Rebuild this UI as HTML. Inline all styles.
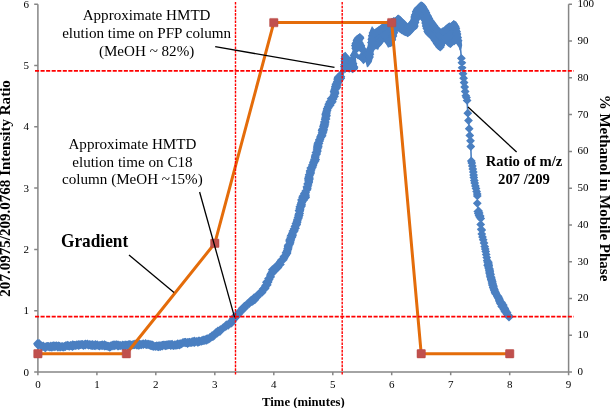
<!DOCTYPE html>
<html><head><meta charset="utf-8"><style>html,body{margin:0;padding:0;background:#fff;overflow:hidden}svg{display:block}</style></head>
<body><svg width="611" height="408" viewBox="0 0 611 408">
<rect width="611" height="408" fill="#fff"/>
<g fill="none" stroke="#868686" stroke-width="1.5">
<path d="M37.9 4.2V372.1H568.6M568.6 4.2V372.1"/>
<path d="M34.2 372.1H37.9M34.2 310.8H37.9M34.2 249.5H37.9M34.2 188.1H37.9M34.2 126.8H37.9M34.2 65.5H37.9M34.2 4.2H37.9M37.9 372.1V375.2M96.9 372.1V375.2M155.8 372.1V375.2M214.8 372.1V375.2M273.8 372.1V375.2M332.8 372.1V375.2M391.7 372.1V375.2M450.7 372.1V375.2M509.7 372.1V375.2M568.6 372.1V375.2M568.6 372.1H572M568.6 335.3H572M568.6 298.5H572M568.6 261.7H572M568.6 224.9H572M568.6 188.2H572M568.6 151.4H572M568.6 114.6H572M568.6 77.8H572M568.6 41.0H572M568.6 4.2H572"/>
</g>
<g font-family="Liberation Serif, serif" font-size="11" fill="#000">
<text x="29" y="375.5" text-anchor="end">0</text>
<text x="29" y="314.2" text-anchor="end">1</text>
<text x="29" y="252.9" text-anchor="end">2</text>
<text x="29" y="191.5" text-anchor="end">3</text>
<text x="29" y="130.2" text-anchor="end">4</text>
<text x="29" y="68.9" text-anchor="end">5</text>
<text x="29" y="7.6" text-anchor="end">6</text>
<text x="37.9" y="388.3" text-anchor="middle">0</text>
<text x="96.9" y="388.3" text-anchor="middle">1</text>
<text x="155.8" y="388.3" text-anchor="middle">2</text>
<text x="214.8" y="388.3" text-anchor="middle">3</text>
<text x="273.8" y="388.3" text-anchor="middle">4</text>
<text x="332.8" y="388.3" text-anchor="middle">5</text>
<text x="391.7" y="388.3" text-anchor="middle">6</text>
<text x="450.7" y="388.3" text-anchor="middle">7</text>
<text x="509.7" y="388.3" text-anchor="middle">8</text>
<text x="568.6" y="388.3" text-anchor="middle">9</text>
<text x="577.6" y="375.0">0</text>
<text x="577.6" y="338.2">10</text>
<text x="577.6" y="301.4">20</text>
<text x="577.6" y="264.6">30</text>
<text x="577.6" y="227.8">40</text>
<text x="577.6" y="191.1">50</text>
<text x="577.6" y="154.3">60</text>
<text x="577.6" y="117.5">70</text>
<text x="577.6" y="80.7">80</text>
<text x="577.6" y="43.9">90</text>
<text x="577.6" y="7.1">100</text>
</g>
<polyline points="460.2,45.0 461.4,58.3 461.9,62.7 462.1,67.7 463.0,73.7 463.6,78.2 464.1,82.6 464.7,87.0 465.2,91.4 465.8,95.8 466.5,97.5 467.1,100.4 467.8,113.2 468.5,120.6 469.2,128.7 469.8,135.4 470.5,140.8 470.8,146.5 471.3,160.9" fill="none" stroke="#4A7FC1" stroke-width="1.6"/>
<path d="M37.5 339.0L41.9 343.4L37.5 347.8L33.1 343.4ZM37.7 340.0L42.1 344.4L37.7 348.8L33.3 344.4ZM39.1 339.1L43.5 343.5L39.1 347.9L34.7 343.5ZM38.2 340.9L42.6 345.3L38.2 349.7L33.8 345.3ZM39.6 340.2L44.0 344.6L39.6 349.0L35.2 344.6ZM40.6 340.9L45.0 345.3L40.6 349.7L36.2 345.3ZM41.4 341.4L45.8 345.8L41.4 350.2L37.0 345.8ZM41.1 340.9L45.5 345.3L41.1 349.7L36.7 345.3ZM42.1 342.3L46.5 346.7L42.1 351.1L37.7 346.7ZM41.9 342.1L46.3 346.5L41.9 350.9L37.5 346.5ZM43.1 341.5L47.5 345.9L43.1 350.3L38.7 345.9ZM43.2 342.2L47.6 346.6L43.2 351.0L38.8 346.6ZM43.5 341.8L47.9 346.2L43.5 350.6L39.1 346.2ZM44.3 342.4L48.7 346.8L44.3 351.2L39.9 346.8ZM45.1 343.3L49.5 347.7L45.1 352.1L40.7 347.7ZM45.1 343.4L49.5 347.8L45.1 352.2L40.7 347.8ZM45.6 343.0L50.0 347.4L45.6 351.8L41.2 347.4ZM45.7 343.2L50.1 347.6L45.7 352.0L41.3 347.6ZM47.3 341.9L51.7 346.3L47.3 350.7L42.9 346.3ZM46.2 342.1L50.6 346.5L46.2 350.9L41.8 346.5ZM48.4 342.2L52.8 346.6L48.4 351.0L44.0 346.6ZM47.9 342.0L52.3 346.4L47.9 350.8L43.5 346.4ZM48.7 341.9L53.1 346.3L48.7 350.7L44.3 346.3ZM48.5 342.2L52.9 346.6L48.5 351.0L44.1 346.6ZM49.8 342.6L54.2 347.0L49.8 351.4L45.4 347.0ZM49.9 342.7L54.3 347.1L49.9 351.5L45.5 347.1ZM51.2 342.7L55.6 347.1L51.2 351.5L46.8 347.1ZM50.9 341.5L55.3 345.9L50.9 350.3L46.5 345.9ZM52.1 342.6L56.5 347.0L52.1 351.4L47.7 347.0ZM52.2 342.0L56.6 346.4L52.2 350.8L47.8 346.4ZM52.9 341.5L57.3 345.9L52.9 350.3L48.5 345.9ZM53.1 342.0L57.5 346.4L53.1 350.8L48.7 346.4ZM53.3 341.2L57.7 345.6L53.3 350.0L48.9 345.6ZM54.1 342.5L58.5 346.9L54.1 351.3L49.7 346.9ZM54.0 342.3L58.4 346.7L54.0 351.1L49.6 346.7ZM54.5 341.4L58.9 345.8L54.5 350.2L50.1 345.8ZM55.3 342.3L59.7 346.7L55.3 351.1L50.9 346.7ZM56.1 341.3L60.5 345.7L56.1 350.1L51.7 345.7ZM56.8 341.4L61.2 345.8L56.8 350.2L52.4 345.8ZM56.9 341.8L61.3 346.2L56.9 350.6L52.5 346.2ZM58.1 342.7L62.5 347.1L58.1 351.5L53.7 347.1ZM57.6 342.7L62.0 347.1L57.6 351.5L53.2 347.1ZM58.3 341.5L62.7 345.9L58.3 350.3L53.9 345.9ZM58.7 341.4L63.1 345.8L58.7 350.2L54.3 345.8ZM59.2 342.0L63.6 346.4L59.2 350.8L54.8 346.4ZM59.7 341.7L64.1 346.1L59.7 350.5L55.3 346.1ZM59.9 342.7L64.3 347.1L59.9 351.5L55.5 347.1ZM60.3 342.8L64.7 347.2L60.3 351.6L55.9 347.2ZM62.1 342.1L66.5 346.5L62.1 350.9L57.7 346.5ZM61.5 342.3L65.9 346.7L61.5 351.1L57.1 346.7ZM62.7 342.4L67.1 346.8L62.7 351.2L58.3 346.8ZM62.6 342.5L67.0 346.9L62.6 351.3L58.2 346.9ZM64.1 342.4L68.5 346.8L64.1 351.2L59.7 346.8ZM63.4 342.7L67.8 347.1L63.4 351.5L59.0 347.1ZM64.1 341.9L68.5 346.3L64.1 350.7L59.7 346.3ZM65.1 342.2L69.5 346.6L65.1 351.0L60.7 346.6ZM65.5 341.3L69.9 345.7L65.5 350.1L61.1 345.7ZM65.3 342.1L69.7 346.5L65.3 350.9L60.9 346.5ZM65.8 341.9L70.2 346.3L65.8 350.7L61.4 346.3ZM66.6 341.2L71.0 345.6L66.6 350.0L62.2 345.6ZM67.6 341.5L72.0 345.9L67.6 350.3L63.2 345.9ZM67.7 341.4L72.1 345.8L67.7 350.2L63.3 345.8ZM68.7 341.7L73.1 346.1L68.7 350.5L64.3 346.1ZM67.7 340.8L72.1 345.2L67.7 349.6L63.3 345.2ZM69.6 341.9L74.0 346.3L69.6 350.7L65.2 346.3ZM69.0 341.4L73.4 345.8L69.0 350.2L64.6 345.8ZM70.5 340.9L74.9 345.3L70.5 349.7L66.1 345.3ZM70.2 341.3L74.6 345.7L70.2 350.1L65.8 345.7ZM71.2 341.2L75.6 345.6L71.2 350.0L66.8 345.6ZM71.1 341.5L75.5 345.9L71.1 350.3L66.7 345.9ZM72.7 340.3L77.1 344.7L72.7 349.1L68.3 344.7ZM72.4 342.1L76.8 346.5L72.4 350.9L68.0 346.5ZM73.0 340.5L77.4 344.9L73.0 349.3L68.6 344.9ZM73.7 341.5L78.1 345.9L73.7 350.3L69.3 345.9ZM73.8 340.8L78.2 345.2L73.8 349.6L69.4 345.2ZM74.6 341.0L79.0 345.4L74.6 349.8L70.2 345.4ZM75.0 340.7L79.4 345.1L75.0 349.5L70.6 345.1ZM75.7 341.2L80.1 345.6L75.7 350.0L71.3 345.6ZM76.7 340.4L81.1 344.8L76.7 349.2L72.3 344.8ZM76.0 341.2L80.4 345.6L76.0 350.0L71.6 345.6ZM77.8 340.7L82.2 345.1L77.8 349.5L73.4 345.1ZM76.8 340.3L81.2 344.7L76.8 349.1L72.4 344.7ZM78.2 340.2L82.6 344.6L78.2 349.0L73.8 344.6ZM78.6 341.1L83.0 345.5L78.6 349.9L74.2 345.5ZM78.7 340.2L83.1 344.6L78.7 349.0L74.3 344.6ZM79.6 340.7L84.0 345.1L79.6 349.5L75.2 345.1ZM80.6 340.2L85.0 344.6L80.6 349.0L76.2 344.6ZM79.6 340.2L84.0 344.6L79.6 349.0L75.2 344.6ZM81.6 340.0L86.0 344.4L81.6 348.8L77.2 344.4ZM80.9 340.3L85.3 344.7L80.9 349.1L76.5 344.7ZM82.0 340.0L86.4 344.4L82.0 348.8L77.6 344.4ZM82.7 339.9L87.1 344.3L82.7 348.7L78.3 344.3ZM82.4 340.5L86.8 344.9L82.4 349.3L78.0 344.9ZM83.6 341.1L88.0 345.5L83.6 349.9L79.2 345.5ZM84.0 340.6L88.4 345.0L84.0 349.4L79.6 345.0ZM84.7 339.9L89.1 344.3L84.7 348.7L80.3 344.3ZM85.4 340.6L89.8 345.0L85.4 349.4L81.0 345.0ZM85.3 340.2L89.7 344.6L85.3 349.0L80.9 344.6ZM85.7 339.9L90.1 344.3L85.7 348.7L81.3 344.3ZM85.7 339.5L90.1 343.9L85.7 348.3L81.3 343.9ZM87.1 339.9L91.5 344.3L87.1 348.7L82.7 344.3ZM87.5 339.5L91.9 343.9L87.5 348.3L83.1 343.9ZM88.6 340.4L93.0 344.8L88.6 349.2L84.2 344.8ZM88.6 340.7L93.0 345.1L88.6 349.5L84.2 345.1ZM89.5 340.4L93.9 344.8L89.5 349.2L85.1 344.8ZM88.3 340.6L92.7 345.0L88.3 349.4L83.9 345.0ZM89.5 340.1L93.9 344.5L89.5 348.9L85.1 344.5ZM90.2 340.4L94.6 344.8L90.2 349.2L85.8 344.8ZM90.8 341.0L95.2 345.4L90.8 349.8L86.4 345.4ZM91.1 340.3L95.5 344.7L91.1 349.1L86.7 344.7ZM91.6 340.9L96.0 345.3L91.6 349.7L87.2 345.3ZM91.9 341.1L96.3 345.5L91.9 349.9L87.5 345.5ZM92.7 340.0L97.1 344.4L92.7 348.8L88.3 344.4ZM92.9 341.3L97.3 345.7L92.9 350.1L88.5 345.7ZM93.4 341.0L97.8 345.4L93.4 349.8L89.0 345.4ZM94.5 341.3L98.9 345.7L94.5 350.1L90.1 345.7ZM95.3 340.0L99.7 344.4L95.3 348.8L90.9 344.4ZM95.1 341.4L99.5 345.8L95.1 350.2L90.7 345.8ZM95.2 340.5L99.6 344.9L95.2 349.3L90.8 344.9ZM95.5 340.9L99.9 345.3L95.5 349.7L91.1 345.3ZM96.7 340.9L101.1 345.3L96.7 349.7L92.3 345.3ZM97.2 340.2L101.6 344.6L97.2 349.0L92.8 344.6ZM97.2 340.5L101.6 344.9L97.2 349.3L92.8 344.9ZM97.3 340.4L101.7 344.8L97.3 349.2L92.9 344.8ZM99.5 341.6L103.9 346.0L99.5 350.4L95.1 346.0ZM98.2 341.1L102.6 345.5L98.2 349.9L93.8 345.5ZM99.5 340.9L103.9 345.3L99.5 349.7L95.1 345.3ZM99.6 341.4L104.0 345.8L99.6 350.2L95.2 345.8ZM100.9 340.9L105.3 345.3L100.9 349.7L96.5 345.3ZM100.3 340.9L104.7 345.3L100.3 349.7L95.9 345.3ZM101.2 341.1L105.6 345.5L101.2 349.9L96.8 345.5ZM102.1 340.9L106.5 345.3L102.1 349.7L97.7 345.3ZM102.2 340.3L106.6 344.7L102.2 349.1L97.8 344.7ZM102.6 341.3L107.0 345.7L102.6 350.1L98.2 345.7ZM104.1 340.4L108.5 344.8L104.1 349.2L99.7 344.8ZM104.1 341.5L108.5 345.9L104.1 350.3L99.7 345.9ZM104.6 340.2L109.0 344.6L104.6 349.0L100.2 344.6ZM104.7 341.7L109.1 346.1L104.7 350.5L100.3 346.1ZM105.6 341.0L110.0 345.4L105.6 349.8L101.2 345.4ZM105.6 341.2L110.0 345.6L105.6 350.0L101.2 345.6ZM106.7 341.3L111.1 345.7L106.7 350.1L102.3 345.7ZM106.1 341.7L110.5 346.1L106.1 350.5L101.7 346.1ZM107.5 341.8L111.9 346.2L107.5 350.6L103.1 346.2ZM108.3 341.8L112.7 346.2L108.3 350.6L103.9 346.2ZM109.2 342.0L113.6 346.4L109.2 350.8L104.8 346.4ZM108.3 342.1L112.7 346.5L108.3 350.9L103.9 346.5ZM109.1 342.3L113.5 346.7L109.1 351.1L104.7 346.7ZM109.8 342.9L114.2 347.3L109.8 351.7L105.4 347.3ZM111.0 341.8L115.4 346.2L111.0 350.6L106.6 346.2ZM110.9 342.2L115.3 346.6L110.9 351.0L106.5 346.6ZM111.0 341.4L115.4 345.8L111.0 350.2L106.6 345.8ZM110.9 341.3L115.3 345.7L110.9 350.1L106.5 345.7ZM113.0 340.4L117.4 344.8L113.0 349.2L108.6 344.8ZM112.0 340.9L116.4 345.3L112.0 349.7L107.6 345.3ZM114.1 340.3L118.5 344.7L114.1 349.1L109.7 344.7ZM112.9 341.7L117.3 346.1L112.9 350.5L108.5 346.1ZM114.1 340.9L118.5 345.3L114.1 349.7L109.7 345.3ZM114.8 341.4L119.2 345.8L114.8 350.2L110.4 345.8ZM116.2 340.7L120.6 345.1L116.2 349.5L111.8 345.1ZM116.0 340.3L120.4 344.7L116.0 349.1L111.6 344.7ZM116.9 340.8L121.3 345.2L116.9 349.6L112.5 345.2ZM116.9 340.3L121.3 344.7L116.9 349.1L112.5 344.7ZM117.9 341.6L122.3 346.0L117.9 350.4L113.5 346.0ZM116.9 340.7L121.3 345.1L116.9 349.5L112.5 345.1ZM118.6 341.5L123.0 345.9L118.6 350.3L114.2 345.9ZM118.2 340.6L122.6 345.0L118.2 349.4L113.8 345.0ZM119.1 341.3L123.5 345.7L119.1 350.1L114.7 345.7ZM119.9 341.0L124.3 345.4L119.9 349.8L115.5 345.4ZM120.3 341.0L124.7 345.4L120.3 349.8L115.9 345.4ZM120.3 341.0L124.7 345.4L120.3 349.8L115.9 345.4ZM120.9 341.2L125.3 345.6L120.9 350.0L116.5 345.6ZM122.1 341.0L126.5 345.4L122.1 349.8L117.7 345.4ZM122.8 340.6L127.2 345.0L122.8 349.4L118.4 345.0ZM122.7 341.6L127.1 346.0L122.7 350.4L118.3 346.0ZM123.7 341.0L128.1 345.4L123.7 349.8L119.3 345.4ZM123.4 341.5L127.8 345.9L123.4 350.3L119.0 345.9ZM125.0 340.4L129.4 344.8L125.0 349.2L120.6 344.8ZM123.8 341.7L128.2 346.1L123.8 350.5L119.4 346.1ZM126.0 340.9L130.4 345.3L126.0 349.7L121.6 345.3ZM125.3 341.5L129.7 345.9L125.3 350.3L120.9 345.9ZM125.9 340.6L130.3 345.0L125.9 349.4L121.5 345.0ZM125.9 341.1L130.3 345.5L125.9 349.9L121.5 345.5ZM127.1 340.5L131.5 344.9L127.1 349.3L122.7 344.9ZM127.6 341.5L132.0 345.9L127.6 350.3L123.2 345.9ZM128.0 341.0L132.4 345.4L128.0 349.8L123.6 345.4ZM128.2 341.2L132.6 345.6L128.2 350.0L123.8 345.6ZM129.4 340.3L133.8 344.7L129.4 349.1L125.0 344.7ZM128.9 340.0L133.3 344.4L128.9 348.8L124.5 344.4ZM130.3 340.3L134.7 344.7L130.3 349.1L125.9 344.7ZM129.8 340.3L134.2 344.7L129.8 349.1L125.4 344.7ZM131.0 340.7L135.4 345.1L131.0 349.5L126.6 345.1ZM130.8 341.0L135.2 345.4L130.8 349.8L126.4 345.4ZM132.2 340.3L136.6 344.7L132.2 349.1L127.8 344.7ZM132.2 340.7L136.6 345.1L132.2 349.5L127.8 345.1ZM133.7 340.1L138.1 344.5L133.7 348.9L129.3 344.5ZM133.2 340.4L137.6 344.8L133.2 349.2L128.8 344.8ZM134.7 339.8L139.1 344.2L134.7 348.6L130.3 344.2ZM134.5 340.5L138.9 344.9L134.5 349.3L130.1 344.9ZM135.1 339.6L139.5 344.0L135.1 348.4L130.7 344.0ZM134.8 340.3L139.2 344.7L134.8 349.1L130.4 344.7ZM136.4 340.7L140.8 345.1L136.4 349.5L132.0 345.1ZM136.7 339.7L141.1 344.1L136.7 348.5L132.3 344.1ZM136.7 339.9L141.1 344.3L136.7 348.7L132.3 344.3ZM136.7 340.5L141.1 344.9L136.7 349.3L132.3 344.9ZM138.6 340.9L143.0 345.3L138.6 349.7L134.2 345.3ZM137.8 340.8L142.2 345.2L137.8 349.6L133.4 345.2ZM138.8 340.3L143.2 344.7L138.8 349.1L134.4 344.7ZM139.4 339.8L143.8 344.2L139.4 348.6L135.0 344.2ZM139.5 340.7L143.9 345.1L139.5 349.5L135.1 345.1ZM139.8 340.1L144.2 344.5L139.8 348.9L135.4 344.5ZM141.2 340.4L145.6 344.8L141.2 349.2L136.8 344.8ZM140.4 339.9L144.8 344.3L140.4 348.7L136.0 344.3ZM142.0 340.0L146.4 344.4L142.0 348.8L137.6 344.4ZM141.6 340.1L146.0 344.5L141.6 348.9L137.2 344.5ZM143.7 339.7L148.1 344.1L143.7 348.5L139.3 344.1ZM143.1 339.3L147.5 343.7L143.1 348.1L138.7 343.7ZM143.7 340.0L148.1 344.4L143.7 348.8L139.3 344.4ZM143.5 340.3L147.9 344.7L143.5 349.1L139.1 344.7ZM145.6 339.0L150.0 343.4L145.6 347.8L141.2 343.4ZM145.6 339.4L150.0 343.8L145.6 348.2L141.2 343.8ZM146.4 340.1L150.8 344.5L146.4 348.9L142.0 344.5ZM145.7 340.0L150.1 344.4L145.7 348.8L141.3 344.4ZM147.2 340.3L151.6 344.7L147.2 349.1L142.8 344.7ZM146.6 340.3L151.0 344.7L146.6 349.1L142.2 344.7ZM148.6 340.3L153.0 344.7L148.6 349.1L144.2 344.7ZM148.0 339.5L152.4 343.9L148.0 348.3L143.6 343.9ZM148.9 340.0L153.3 344.4L148.9 348.8L144.5 344.4ZM149.2 340.4L153.6 344.8L149.2 349.2L144.8 344.8ZM150.0 339.9L154.4 344.3L150.0 348.7L145.6 344.3ZM150.1 340.5L154.5 344.9L150.1 349.3L145.7 344.9ZM150.4 341.2L154.8 345.6L150.4 350.0L146.0 345.6ZM151.1 340.2L155.5 344.6L151.1 349.0L146.7 344.6ZM152.5 340.5L156.9 344.9L152.5 349.3L148.1 344.9ZM151.6 341.4L156.0 345.8L151.6 350.2L147.2 345.8ZM153.0 341.5L157.4 345.9L153.0 350.3L148.6 345.9ZM153.0 341.3L157.4 345.7L153.0 350.1L148.6 345.7ZM153.6 341.3L158.0 345.7L153.6 350.1L149.2 345.7ZM153.2 342.1L157.6 346.5L153.2 350.9L148.8 346.5ZM155.2 342.2L159.6 346.6L155.2 351.0L150.8 346.6ZM155.1 341.9L159.5 346.3L155.1 350.7L150.7 346.3ZM155.5 341.9L159.9 346.3L155.5 350.7L151.1 346.3ZM156.3 341.4L160.7 345.8L156.3 350.2L151.9 345.8ZM156.8 341.6L161.2 346.0L156.8 350.4L152.4 346.0ZM157.1 341.8L161.5 346.2L157.1 350.6L152.7 346.2ZM157.5 341.8L161.9 346.2L157.5 350.6L153.1 346.2ZM157.8 342.3L162.2 346.7L157.8 351.1L153.4 346.7ZM158.5 342.4L162.9 346.8L158.5 351.2L154.1 346.8ZM158.2 341.6L162.6 346.0L158.2 350.4L153.8 346.0ZM159.1 341.3L163.5 345.7L159.1 350.1L154.7 345.7ZM160.1 342.2L164.5 346.6L160.1 351.0L155.7 346.6ZM160.2 341.2L164.6 345.6L160.2 350.0L155.8 345.6ZM160.6 342.0L165.0 346.4L160.6 350.8L156.2 346.4ZM162.1 341.7L166.5 346.1L162.1 350.5L157.7 346.1ZM161.8 341.0L166.2 345.4L161.8 349.8L157.4 345.4ZM162.5 340.8L166.9 345.2L162.5 349.6L158.1 345.2ZM162.7 341.4L167.1 345.8L162.7 350.2L158.3 345.8ZM163.2 340.7L167.6 345.1L163.2 349.5L158.8 345.1ZM164.0 340.4L168.4 344.8L164.0 349.2L159.6 344.8ZM165.0 341.3L169.4 345.7L165.0 350.1L160.6 345.7ZM165.2 340.7L169.6 345.1L165.2 349.5L160.8 345.1ZM165.7 340.7L170.1 345.1L165.7 349.5L161.3 345.1ZM165.8 341.5L170.2 345.9L165.8 350.3L161.4 345.9ZM166.9 340.2L171.3 344.6L166.9 349.0L162.5 344.6ZM167.1 340.7L171.5 345.1L167.1 349.5L162.7 345.1ZM167.7 340.6L172.1 345.0L167.7 349.4L163.3 345.0ZM166.9 341.0L171.3 345.4L166.9 349.8L162.5 345.4ZM168.8 340.1L173.2 344.5L168.8 348.9L164.4 344.5ZM168.6 340.4L173.0 344.8L168.6 349.2L164.2 344.8ZM169.2 339.9L173.6 344.3L169.2 348.7L164.8 344.3ZM169.0 340.4L173.4 344.8L169.0 349.2L164.6 344.8ZM170.8 340.0L175.2 344.4L170.8 348.8L166.4 344.4ZM170.7 341.1L175.1 345.5L170.7 349.9L166.3 345.5ZM172.1 339.7L176.5 344.1L172.1 348.5L167.7 344.1ZM172.0 340.8L176.4 345.2L172.0 349.6L167.6 345.2ZM171.9 340.2L176.3 344.6L171.9 349.0L167.5 344.6ZM172.2 340.1L176.6 344.5L172.2 348.9L167.8 344.5ZM173.6 341.2L178.0 345.6L173.6 350.0L169.2 345.6ZM173.3 341.3L177.7 345.7L173.3 350.1L168.9 345.7ZM174.8 340.3L179.2 344.7L174.8 349.1L170.4 344.7ZM175.0 341.0L179.4 345.4L175.0 349.8L170.6 345.4ZM176.1 340.8L180.5 345.2L176.1 349.6L171.7 345.2ZM175.8 340.6L180.2 345.0L175.8 349.4L171.4 345.0ZM176.9 340.8L181.3 345.2L176.9 349.6L172.5 345.2ZM177.0 340.6L181.4 345.0L177.0 349.4L172.6 345.0ZM177.8 339.9L182.2 344.3L177.8 348.7L173.4 344.3ZM176.9 340.0L181.3 344.4L176.9 348.8L172.5 344.4ZM177.8 339.3L182.2 343.7L177.8 348.1L173.4 343.7ZM177.9 340.5L182.3 344.9L177.9 349.3L173.5 344.9ZM179.7 339.5L184.1 343.9L179.7 348.3L175.3 343.9ZM179.3 340.6L183.7 345.0L179.3 349.4L174.9 345.0ZM180.1 339.2L184.5 343.6L180.1 348.0L175.7 343.6ZM180.7 339.9L185.1 344.3L180.7 348.7L176.3 344.3ZM180.9 339.6L185.3 344.0L180.9 348.4L176.5 344.0ZM181.7 339.4L186.1 343.8L181.7 348.2L177.3 343.8ZM182.2 338.8L186.6 343.2L182.2 347.6L177.8 343.2ZM182.5 338.8L186.9 343.2L182.5 347.6L178.1 343.2ZM182.6 338.2L187.0 342.6L182.6 347.0L178.2 342.6ZM183.7 338.3L188.1 342.7L183.7 347.1L179.3 342.7ZM184.2 338.0L188.6 342.4L184.2 346.8L179.8 342.4ZM183.9 337.9L188.3 342.3L183.9 346.7L179.5 342.3ZM185.1 338.0L189.5 342.4L185.1 346.8L180.7 342.4ZM184.6 337.9L189.0 342.3L184.6 346.7L180.2 342.3ZM185.8 338.5L190.2 342.9L185.8 347.3L181.4 342.9ZM185.6 337.8L190.0 342.2L185.6 346.6L181.2 342.2ZM187.2 338.4L191.6 342.8L187.2 347.2L182.8 342.8ZM187.5 337.9L191.9 342.3L187.5 346.7L183.1 342.3ZM188.1 338.5L192.5 342.9L188.1 347.3L183.7 342.9ZM187.6 339.3L192.0 343.7L187.6 348.1L183.2 343.7ZM188.8 338.1L193.2 342.5L188.8 346.9L184.4 342.5ZM189.2 338.2L193.6 342.6L189.2 347.0L184.8 342.6ZM190.4 338.2L194.8 342.6L190.4 347.0L186.0 342.6ZM189.7 337.8L194.1 342.2L189.7 346.6L185.3 342.2ZM191.5 337.8L195.9 342.2L191.5 346.6L187.1 342.2ZM191.6 338.1L196.0 342.5L191.6 346.9L187.2 342.5ZM192.7 337.6L197.1 342.0L192.7 346.4L188.3 342.0ZM191.8 337.6L196.2 342.0L191.8 346.4L187.4 342.0ZM193.6 337.8L198.0 342.2L193.6 346.6L189.2 342.2ZM192.9 337.1L197.3 341.5L192.9 345.9L188.5 341.5ZM194.4 338.1L198.8 342.5L194.4 346.9L190.0 342.5ZM194.2 336.7L198.6 341.1L194.2 345.5L189.8 341.1ZM194.4 336.8L198.8 341.2L194.4 345.6L190.0 341.2ZM194.6 336.7L199.0 341.1L194.6 345.5L190.2 341.1ZM195.4 337.5L199.8 341.9L195.4 346.3L191.0 341.9ZM196.6 336.9L201.0 341.3L196.6 345.7L192.2 341.3ZM197.7 337.2L202.1 341.6L197.7 346.0L193.3 341.6ZM197.5 337.9L201.9 342.3L197.5 346.7L193.1 342.3ZM198.6 336.6L203.0 341.0L198.6 345.4L194.2 341.0ZM197.7 337.4L202.1 341.8L197.7 346.2L193.3 341.8ZM199.6 336.6L204.0 341.0L199.6 345.4L195.2 341.0ZM198.7 337.7L203.1 342.1L198.7 346.5L194.3 342.1ZM199.4 336.8L203.8 341.2L199.4 345.6L195.0 341.2ZM199.7 337.2L204.1 341.6L199.7 346.0L195.3 341.6ZM201.6 336.2L206.0 340.6L201.6 345.0L197.2 340.6ZM201.3 337.0L205.7 341.4L201.3 345.8L196.9 341.4ZM202.4 336.5L206.8 340.9L202.4 345.3L198.0 340.9ZM202.5 336.3L206.9 340.7L202.5 345.1L198.1 340.7ZM202.8 335.8L207.2 340.2L202.8 344.6L198.4 340.2ZM203.3 336.2L207.7 340.6L203.3 345.0L198.9 340.6ZM203.6 335.4L208.0 339.8L203.6 344.2L199.2 339.8ZM204.2 336.1L208.6 340.5L204.2 344.9L199.8 340.5ZM205.3 335.4L209.7 339.8L205.3 344.2L200.9 339.8ZM205.0 335.3L209.4 339.7L205.0 344.1L200.6 339.7ZM206.5 334.6L210.9 339.0L206.5 343.4L202.1 339.0ZM206.1 335.9L210.5 340.3L206.1 344.7L201.7 340.3ZM207.5 334.3L211.9 338.7L207.5 343.1L203.1 338.7ZM206.9 335.8L211.3 340.2L206.9 344.6L202.5 340.2ZM208.5 334.8L212.9 339.2L208.5 343.6L204.1 339.2ZM208.8 334.6L213.2 339.0L208.8 343.4L204.4 339.0ZM209.9 334.0L214.3 338.4L209.9 342.8L205.5 338.4ZM209.1 333.9L213.5 338.3L209.1 342.7L204.7 338.3ZM209.8 333.0L214.2 337.4L209.8 341.8L205.4 337.4ZM211.0 332.9L215.4 337.3L211.0 341.7L206.6 337.3ZM211.5 332.0L215.9 336.4L211.5 340.8L207.1 336.4ZM210.8 333.0L215.2 337.4L210.8 341.8L206.4 337.4ZM212.0 331.3L216.4 335.7L212.0 340.1L207.6 335.7ZM211.9 332.4L216.3 336.8L211.9 341.2L207.5 336.8ZM213.5 330.6L217.9 335.0L213.5 339.4L209.1 335.0ZM213.0 332.3L217.4 336.7L213.0 341.1L208.6 336.7ZM214.0 330.5L218.4 334.9L214.0 339.3L209.6 334.9ZM214.3 331.2L218.7 335.6L214.3 340.0L209.9 335.6ZM215.6 329.8L220.0 334.2L215.6 338.6L211.2 334.2ZM215.5 329.5L219.9 333.9L215.5 338.3L211.1 333.9ZM216.0 327.9L220.4 332.3L216.0 336.7L211.6 332.3ZM216.9 328.6L221.3 333.0L216.9 337.4L212.5 333.0ZM216.8 328.2L221.2 332.6L216.8 337.0L212.4 332.6ZM217.0 328.9L221.4 333.3L217.0 337.7L212.6 333.3ZM217.9 326.6L222.3 331.0L217.9 335.4L213.5 331.0ZM218.1 328.0L222.5 332.4L218.1 336.8L213.7 332.4ZM219.7 325.9L224.1 330.3L219.7 334.7L215.3 330.3ZM219.9 327.2L224.3 331.6L219.9 336.0L215.5 331.6ZM220.3 325.2L224.7 329.6L220.3 334.0L215.9 329.6ZM220.4 325.3L224.8 329.7L220.4 334.1L216.0 329.7ZM222.0 324.6L226.4 329.0L222.0 333.4L217.6 329.0ZM222.0 324.7L226.4 329.1L222.0 333.5L217.6 329.1ZM222.6 323.8L227.0 328.2L222.6 332.6L218.2 328.2ZM222.9 323.7L227.3 328.1L222.9 332.5L218.5 328.1ZM223.4 323.2L227.8 327.6L223.4 332.0L219.0 327.6ZM223.0 323.5L227.4 327.9L223.0 332.3L218.6 327.9ZM224.9 322.5L229.3 326.9L224.9 331.3L220.5 326.9ZM224.8 322.8L229.2 327.2L224.8 331.6L220.4 327.2ZM225.2 321.7L229.6 326.1L225.2 330.5L220.8 326.1ZM226.3 321.7L230.7 326.1L226.3 330.5L221.9 326.1ZM226.5 320.4L230.9 324.8L226.5 329.2L222.1 324.8ZM226.2 320.6L230.6 325.0L226.2 329.4L221.8 325.0ZM228.3 320.3L232.7 324.7L228.3 329.1L223.9 324.7ZM228.2 321.0L232.6 325.4L228.2 329.8L223.8 325.4ZM228.9 319.6L233.3 324.0L228.9 328.4L224.5 324.0ZM228.8 319.5L233.2 323.9L228.8 328.3L224.4 323.9ZM230.4 318.6L234.8 323.0L230.4 327.4L226.0 323.0ZM230.4 318.9L234.8 323.3L230.4 327.7L226.0 323.3ZM231.1 316.9L235.5 321.3L231.1 325.7L226.7 321.3ZM231.5 318.8L235.9 323.2L231.5 327.6L227.1 323.2ZM231.5 316.6L235.9 321.0L231.5 325.4L227.1 321.0ZM231.4 316.9L235.8 321.3L231.4 325.7L227.0 321.3ZM233.1 314.6L237.5 319.0L233.1 323.4L228.7 319.0ZM232.9 316.4L237.3 320.8L232.9 325.2L228.5 320.8ZM233.2 314.1L237.6 318.5L233.2 322.9L228.8 318.5ZM233.6 314.8L238.0 319.2L233.6 323.6L229.2 319.2ZM234.7 313.0L239.1 317.4L234.7 321.8L230.3 317.4ZM235.2 313.3L239.6 317.7L235.2 322.1L230.8 317.7ZM235.4 311.3L239.8 315.7L235.4 320.1L231.0 315.7ZM235.8 311.7L240.2 316.1L235.8 320.5L231.4 316.1ZM236.5 310.9L240.9 315.3L236.5 319.7L232.1 315.3ZM237.2 311.7L241.6 316.1L237.2 320.5L232.8 316.1ZM238.7 309.9L243.1 314.3L238.7 318.7L234.3 314.3ZM237.8 309.2L242.2 313.6L237.8 318.0L233.4 313.6ZM238.7 308.4L243.1 312.8L238.7 317.2L234.3 312.8ZM239.0 308.6L243.4 313.0L239.0 317.4L234.6 313.0ZM239.8 307.9L244.2 312.3L239.8 316.7L235.4 312.3ZM239.6 307.3L244.0 311.7L239.6 316.1L235.2 311.7ZM241.5 306.8L245.9 311.2L241.5 315.6L237.1 311.2ZM240.6 306.0L245.0 310.4L240.6 314.8L236.2 310.4ZM242.3 304.6L246.7 309.0L242.3 313.4L237.9 309.0ZM241.4 305.3L245.8 309.7L241.4 314.1L237.0 309.7ZM242.9 303.9L247.3 308.3L242.9 312.7L238.5 308.3ZM242.2 303.9L246.6 308.3L242.2 312.7L237.8 308.3ZM244.2 303.4L248.6 307.8L244.2 312.2L239.8 307.8ZM244.5 303.8L248.9 308.2L244.5 312.6L240.1 308.2ZM245.5 301.8L249.9 306.2L245.5 310.6L241.1 306.2ZM244.4 301.8L248.8 306.2L244.4 310.6L240.0 306.2ZM245.7 301.3L250.1 305.7L245.7 310.1L241.3 305.7ZM245.2 301.6L249.6 306.0L245.2 310.4L240.8 306.0ZM246.2 300.4L250.6 304.8L246.2 309.2L241.8 304.8ZM246.4 301.1L250.8 305.5L246.4 309.9L242.0 305.5ZM247.6 299.4L252.0 303.8L247.6 308.2L243.2 303.8ZM247.1 299.6L251.5 304.0L247.1 308.4L242.7 304.0ZM248.9 299.1L253.3 303.5L248.9 307.9L244.5 303.5ZM249.3 299.2L253.7 303.6L249.3 308.0L244.9 303.6ZM249.3 297.4L253.7 301.8L249.3 306.2L244.9 301.8ZM250.1 298.3L254.5 302.7L250.1 307.1L245.7 302.7ZM250.7 297.7L255.1 302.1L250.7 306.5L246.3 302.1ZM250.7 296.9L255.1 301.3L250.7 305.7L246.3 301.3ZM251.2 295.7L255.6 300.1L251.2 304.5L246.8 300.1ZM251.9 297.3L256.3 301.7L251.9 306.1L247.5 301.7ZM253.2 295.5L257.6 299.9L253.2 304.3L248.8 299.9ZM252.9 296.8L257.3 301.2L252.9 305.6L248.5 301.2ZM254.0 294.8L258.4 299.2L254.0 303.6L249.6 299.2ZM253.5 295.7L257.9 300.1L253.5 304.5L249.1 300.1ZM254.1 293.3L258.5 297.7L254.1 302.1L249.7 297.7ZM254.9 295.4L259.3 299.8L254.9 304.2L250.5 299.8ZM255.7 292.6L260.1 297.0L255.7 301.4L251.3 297.0ZM255.4 293.7L259.8 298.1L255.4 302.5L251.0 298.1ZM257.0 291.7L261.4 296.1L257.0 300.5L252.6 296.1ZM257.2 292.3L261.6 296.7L257.2 301.1L252.8 296.7ZM257.3 290.8L261.7 295.2L257.3 299.6L252.9 295.2ZM257.5 292.3L261.9 296.7L257.5 301.1L253.1 296.7ZM259.0 290.4L263.4 294.8L259.0 299.2L254.6 294.8ZM258.7 290.0L263.1 294.4L258.7 298.8L254.3 294.4ZM259.7 288.9L264.1 293.3L259.7 297.7L255.3 293.3ZM259.5 289.3L263.9 293.7L259.5 298.1L255.1 293.7ZM260.8 288.5L265.2 292.9L260.8 297.3L256.4 292.9ZM260.0 288.7L264.4 293.1L260.0 297.5L255.6 293.1ZM261.3 286.9L265.7 291.3L261.3 295.7L256.9 291.3ZM262.1 288.0L266.5 292.4L262.1 296.8L257.7 292.4ZM262.7 285.4L267.1 289.8L262.7 294.2L258.3 289.8ZM263.1 285.6L267.5 290.0L263.1 294.4L258.7 290.0ZM263.3 285.2L267.7 289.6L263.3 294.0L258.9 289.6ZM263.2 284.4L267.6 288.8L263.2 293.2L258.8 288.8ZM265.1 284.1L269.5 288.5L265.1 292.9L260.7 288.5ZM264.2 283.3L268.6 287.7L264.2 292.1L259.8 287.7ZM265.3 282.1L269.7 286.5L265.3 290.9L260.9 286.5ZM265.3 283.3L269.7 287.7L265.3 292.1L260.9 287.7ZM265.5 281.1L269.9 285.5L265.5 289.9L261.1 285.5ZM265.7 280.9L270.1 285.3L265.7 289.7L261.3 285.3ZM266.5 280.7L270.9 285.1L266.5 289.5L262.1 285.1ZM267.2 280.5L271.6 284.9L267.2 289.3L262.8 284.9ZM267.2 278.5L271.6 282.9L267.2 287.3L262.8 282.9ZM267.1 279.9L271.5 284.3L267.1 288.7L262.7 284.3ZM266.4 277.8L270.8 282.2L266.4 286.6L262.0 282.2ZM268.1 277.8L272.5 282.2L268.1 286.6L263.7 282.2ZM267.7 276.4L272.1 280.8L267.7 285.2L263.3 280.8ZM268.0 277.6L272.4 282.0L268.0 286.4L263.6 282.0ZM267.9 276.5L272.3 280.9L267.9 285.3L263.5 280.9ZM268.2 276.6L272.6 281.0L268.2 285.4L263.8 281.0ZM269.2 275.0L273.6 279.4L269.2 283.8L264.8 279.4ZM268.5 274.2L272.9 278.6L268.5 283.0L264.1 278.6ZM269.8 273.2L274.2 277.6L269.8 282.0L265.4 277.6ZM269.0 274.2L273.4 278.6L269.0 283.0L264.6 278.6ZM270.5 272.0L274.9 276.4L270.5 280.8L266.1 276.4ZM270.6 272.6L275.0 277.0L270.6 281.4L266.2 277.0ZM270.4 270.9L274.8 275.3L270.4 279.7L266.0 275.3ZM270.4 272.2L274.8 276.6L270.4 281.0L266.0 276.6ZM270.7 269.9L275.1 274.3L270.7 278.7L266.3 274.3ZM270.7 269.9L275.1 274.3L270.7 278.7L266.3 274.3ZM271.2 269.9L275.6 274.3L271.2 278.7L266.8 274.3ZM271.3 268.9L275.7 273.3L271.3 277.7L266.9 273.3ZM272.4 268.9L276.8 273.3L272.4 277.7L268.0 273.3ZM273.4 267.8L277.8 272.2L273.4 276.6L269.0 272.2ZM272.0 267.7L276.4 272.1L272.0 276.5L267.6 272.1ZM273.5 267.4L277.9 271.8L273.5 276.2L269.1 271.8ZM272.3 265.3L276.7 269.7L272.3 274.1L267.9 269.7ZM274.2 266.3L278.6 270.7L274.2 275.1L269.8 270.7ZM273.4 265.0L277.8 269.4L273.4 273.8L269.0 269.4ZM274.0 265.0L278.4 269.4L274.0 273.8L269.6 269.4ZM275.1 264.9L279.5 269.3L275.1 273.7L270.7 269.3ZM274.8 263.4L279.2 267.8L274.8 272.2L270.4 267.8ZM276.4 264.4L280.8 268.8L276.4 273.2L272.0 268.8ZM276.2 262.2L280.6 266.6L276.2 271.0L271.8 266.6ZM278.0 263.1L282.4 267.5L278.0 271.9L273.6 267.5ZM276.7 261.2L281.1 265.6L276.7 270.0L272.3 265.6ZM278.1 260.9L282.5 265.3L278.1 269.7L273.7 265.3ZM279.2 260.3L283.6 264.7L279.2 269.1L274.8 264.7ZM280.1 259.9L284.5 264.3L280.1 268.7L275.7 264.3ZM278.6 259.8L283.0 264.2L278.6 268.6L274.2 264.2ZM280.4 260.0L284.8 264.4L280.4 268.8L276.0 264.4ZM280.4 258.2L284.8 262.6L280.4 267.0L276.0 262.6ZM280.8 257.6L285.2 262.0L280.8 266.4L276.4 262.0ZM281.0 257.0L285.4 261.4L281.0 265.8L276.6 261.4ZM280.4 257.2L284.8 261.6L280.4 266.0L276.0 261.6ZM281.3 256.0L285.7 260.4L281.3 264.8L276.9 260.4ZM281.4 255.7L285.8 260.1L281.4 264.5L277.0 260.1ZM282.3 255.0L286.7 259.4L282.3 263.8L277.9 259.4ZM283.1 255.5L287.5 259.9L283.1 264.3L278.7 259.9ZM283.9 254.3L288.3 258.7L283.9 263.1L279.5 258.7ZM283.1 254.5L287.5 258.9L283.1 263.3L278.7 258.9ZM283.9 252.2L288.3 256.6L283.9 261.0L279.5 256.6ZM284.3 253.0L288.7 257.4L284.3 261.8L279.9 257.4ZM284.9 251.8L289.3 256.2L284.9 260.6L280.5 256.2ZM284.8 252.3L289.2 256.7L284.8 261.1L280.4 256.7ZM285.6 250.5L290.0 254.9L285.6 259.3L281.2 254.9ZM285.7 251.0L290.1 255.4L285.7 259.8L281.3 255.4ZM286.8 249.4L291.2 253.8L286.8 258.2L282.4 253.8ZM286.0 249.6L290.4 254.0L286.0 258.4L281.6 254.0ZM286.0 248.2L290.4 252.6L286.0 257.0L281.6 252.6ZM287.1 248.7L291.5 253.1L287.1 257.5L282.7 253.1ZM286.5 247.7L290.9 252.1L286.5 256.5L282.1 252.1ZM286.9 247.9L291.3 252.3L286.9 256.7L282.5 252.3ZM287.2 245.8L291.6 250.2L287.2 254.6L282.8 250.2ZM287.4 246.7L291.8 251.1L287.4 255.5L283.0 251.1ZM287.5 245.7L291.9 250.1L287.5 254.5L283.1 250.1ZM287.9 245.0L292.3 249.4L287.9 253.8L283.5 249.4ZM287.6 244.2L292.0 248.6L287.6 253.0L283.2 248.6ZM287.7 244.0L292.1 248.4L287.7 252.8L283.3 248.4ZM288.3 243.7L292.7 248.1L288.3 252.5L283.9 248.1ZM288.2 242.7L292.6 247.1L288.2 251.5L283.8 247.1ZM288.0 242.0L292.4 246.4L288.0 250.8L283.6 246.4ZM288.6 241.7L293.0 246.1L288.6 250.5L284.2 246.1ZM288.1 240.9L292.5 245.3L288.1 249.7L283.7 245.3ZM288.4 240.5L292.8 244.9L288.4 249.3L284.0 244.9ZM289.1 240.7L293.5 245.1L289.1 249.5L284.7 245.1ZM289.1 240.5L293.5 244.9L289.1 249.3L284.7 244.9ZM289.8 239.6L294.2 244.0L289.8 248.4L285.4 244.0ZM289.9 239.0L294.3 243.4L289.9 247.8L285.5 243.4ZM289.9 237.6L294.3 242.0L289.9 246.4L285.5 242.0ZM290.2 237.9L294.6 242.3L290.2 246.7L285.8 242.3ZM289.9 237.7L294.3 242.1L289.9 246.5L285.5 242.1ZM289.6 236.7L294.0 241.1L289.6 245.5L285.2 241.1ZM290.7 236.4L295.1 240.8L290.7 245.2L286.3 240.8ZM289.6 235.6L294.0 240.0L289.6 244.4L285.2 240.0ZM290.3 234.7L294.7 239.1L290.3 243.5L285.9 239.1ZM290.9 234.9L295.3 239.3L290.9 243.7L286.5 239.3ZM290.4 234.3L294.8 238.7L290.4 243.1L286.0 238.7ZM290.8 234.3L295.2 238.7L290.8 243.1L286.4 238.7ZM291.2 233.7L295.6 238.1L291.2 242.5L286.8 238.1ZM290.9 233.0L295.3 237.4L290.9 241.8L286.5 237.4ZM292.0 232.9L296.4 237.3L292.0 241.7L287.6 237.3ZM290.7 232.5L295.1 236.9L290.7 241.3L286.3 236.9ZM292.0 232.4L296.4 236.8L292.0 241.2L287.6 236.8ZM291.1 231.0L295.5 235.4L291.1 239.8L286.7 235.4ZM292.0 230.7L296.4 235.1L292.0 239.5L287.6 235.1ZM292.6 231.2L297.0 235.6L292.6 240.0L288.2 235.6ZM292.2 229.7L296.6 234.1L292.2 238.5L287.8 234.1ZM292.5 230.4L296.9 234.8L292.5 239.2L288.1 234.8ZM292.3 228.8L296.7 233.2L292.3 237.6L287.9 233.2ZM292.2 229.1L296.6 233.5L292.2 237.9L287.8 233.5ZM292.5 228.6L296.9 233.0L292.5 237.4L288.1 233.0ZM293.2 228.1L297.6 232.5L293.2 236.9L288.8 232.5ZM292.9 226.7L297.3 231.1L292.9 235.5L288.5 231.1ZM293.5 227.6L297.9 232.0L293.5 236.4L289.1 232.0ZM293.9 225.9L298.3 230.3L293.9 234.7L289.5 230.3ZM294.5 226.4L298.9 230.8L294.5 235.2L290.1 230.8ZM294.3 224.8L298.7 229.2L294.3 233.6L289.9 229.2ZM294.0 225.8L298.4 230.2L294.0 234.6L289.6 230.2ZM294.1 224.4L298.5 228.8L294.1 233.2L289.7 228.8ZM294.8 224.1L299.2 228.5L294.8 232.9L290.4 228.5ZM295.3 224.0L299.7 228.4L295.3 232.8L290.9 228.4ZM295.5 223.8L299.9 228.2L295.5 232.6L291.1 228.2ZM294.9 221.9L299.3 226.3L294.9 230.7L290.5 226.3ZM295.2 222.3L299.6 226.7L295.2 231.1L290.8 226.7ZM295.3 222.1L299.7 226.5L295.3 230.9L290.9 226.5ZM295.3 222.1L299.7 226.5L295.3 230.9L290.9 226.5ZM296.7 219.9L301.1 224.3L296.7 228.7L292.3 224.3ZM296.7 220.3L301.1 224.7L296.7 229.1L292.3 224.7ZM296.1 218.9L300.5 223.3L296.1 227.7L291.7 223.3ZM295.9 219.3L300.3 223.7L295.9 228.1L291.5 223.7ZM296.8 218.7L301.2 223.1L296.8 227.5L292.4 223.1ZM297.4 217.6L301.8 222.0L297.4 226.4L293.0 222.0ZM297.2 216.9L301.6 221.3L297.2 225.7L292.8 221.3ZM296.9 216.8L301.3 221.2L296.9 225.6L292.5 221.2ZM297.3 216.3L301.7 220.7L297.3 225.1L292.9 220.7ZM297.4 215.5L301.8 219.9L297.4 224.3L293.0 219.9ZM297.5 214.8L301.9 219.2L297.5 223.6L293.1 219.2ZM298.0 214.5L302.4 218.9L298.0 223.3L293.6 218.9ZM298.5 213.4L302.9 217.8L298.5 222.2L294.1 217.8ZM298.4 214.0L302.8 218.4L298.4 222.8L294.0 218.4ZM298.0 213.1L302.4 217.5L298.0 221.9L293.6 217.5ZM298.3 212.8L302.7 217.2L298.3 221.6L293.9 217.2ZM298.8 211.8L303.2 216.2L298.8 220.6L294.4 216.2ZM298.6 211.0L303.0 215.4L298.6 219.8L294.2 215.4ZM299.3 211.0L303.7 215.4L299.3 219.8L294.9 215.4ZM298.9 210.6L303.3 215.0L298.9 219.4L294.5 215.0ZM298.8 210.0L303.2 214.4L298.8 218.8L294.4 214.4ZM299.3 209.0L303.7 213.4L299.3 217.8L294.9 213.4ZM299.7 209.0L304.1 213.4L299.7 217.8L295.3 213.4ZM299.1 209.0L303.5 213.4L299.1 217.8L294.7 213.4ZM299.4 206.8L303.8 211.2L299.4 215.6L295.0 211.2ZM299.7 207.0L304.1 211.4L299.7 215.8L295.3 211.4ZM299.9 206.2L304.3 210.6L299.9 215.0L295.5 210.6ZM299.0 206.1L303.4 210.5L299.0 214.9L294.6 210.5ZM300.2 205.0L304.6 209.4L300.2 213.8L295.8 209.4ZM299.8 205.5L304.2 209.9L299.8 214.3L295.4 209.9ZM299.8 203.9L304.2 208.3L299.8 212.7L295.4 208.3ZM300.0 204.4L304.4 208.8L300.0 213.2L295.6 208.8ZM299.8 202.4L304.2 206.8L299.8 211.2L295.4 206.8ZM300.6 203.1L305.0 207.5L300.6 211.9L296.2 207.5ZM300.3 202.6L304.7 207.0L300.3 211.4L295.9 207.0ZM301.1 202.2L305.5 206.6L301.1 211.0L296.7 206.6ZM301.6 201.7L306.0 206.1L301.6 210.5L297.2 206.1ZM301.3 200.9L305.7 205.3L301.3 209.7L296.9 205.3ZM300.5 200.6L304.9 205.0L300.5 209.4L296.1 205.0ZM301.6 200.1L306.0 204.5L301.6 208.9L297.2 204.5ZM301.5 199.6L305.9 204.0L301.5 208.4L297.1 204.0ZM301.2 199.7L305.6 204.1L301.2 208.5L296.8 204.1ZM301.9 198.4L306.3 202.8L301.9 207.2L297.5 202.8ZM301.3 198.7L305.7 203.1L301.3 207.5L296.9 203.1ZM301.7 197.8L306.1 202.2L301.7 206.6L297.3 202.2ZM302.2 197.4L306.6 201.8L302.2 206.2L297.8 201.8ZM301.7 196.3L306.1 200.7L301.7 205.1L297.3 200.7ZM303.6 195.8L308.0 200.2L303.6 204.6L299.2 200.2ZM301.6 195.3L306.0 199.7L301.6 204.1L297.2 199.7ZM302.8 195.3L307.2 199.7L302.8 204.1L298.4 199.7ZM303.8 194.7L308.2 199.1L303.8 203.5L299.4 199.1ZM302.5 194.8L306.9 199.2L302.5 203.6L298.1 199.2ZM304.3 194.2L308.7 198.6L304.3 203.0L299.9 198.6ZM305.0 193.6L309.4 198.0L305.0 202.4L300.6 198.0ZM302.5 192.8L306.9 197.2L302.5 201.6L298.1 197.2ZM304.6 192.6L309.0 197.0L304.6 201.4L300.2 197.0ZM305.7 193.1L310.1 197.5L305.7 201.9L301.3 197.5ZM303.1 191.7L307.5 196.1L303.1 200.5L298.7 196.1ZM305.7 191.6L310.1 196.0L305.7 200.4L301.3 196.0ZM303.7 190.9L308.1 195.3L303.7 199.7L299.3 195.3ZM304.7 190.5L309.1 194.9L304.7 199.3L300.3 194.9ZM304.7 190.2L309.1 194.6L304.7 199.0L300.3 194.6ZM305.4 190.4L309.8 194.8L305.4 199.2L301.0 194.8ZM304.3 189.0L308.7 193.4L304.3 197.8L299.9 193.4ZM305.7 188.3L310.1 192.7L305.7 197.1L301.3 192.7ZM305.6 188.3L310.0 192.7L305.6 197.1L301.2 192.7ZM305.4 188.0L309.8 192.4L305.4 196.8L301.0 192.4ZM305.7 186.7L310.1 191.1L305.7 195.5L301.3 191.1ZM305.9 186.5L310.3 190.9L305.9 195.3L301.5 190.9ZM306.6 185.9L311.0 190.3L306.6 194.7L302.2 190.3ZM307.1 185.4L311.5 189.8L307.1 194.2L302.7 189.8ZM307.2 184.2L311.6 188.6L307.2 193.0L302.8 188.6ZM307.4 184.0L311.8 188.4L307.4 192.8L303.0 188.4ZM307.2 183.3L311.6 187.7L307.2 192.1L302.8 187.7ZM307.0 182.6L311.4 187.0L307.0 191.4L302.6 187.0ZM306.9 182.3L311.3 186.7L306.9 191.1L302.5 186.7ZM307.0 182.5L311.4 186.9L307.0 191.3L302.6 186.9ZM307.6 181.6L312.0 186.0L307.6 190.4L303.2 186.0ZM308.1 181.3L312.5 185.7L308.1 190.1L303.7 185.7ZM307.7 179.3L312.1 183.7L307.7 188.1L303.3 183.7ZM308.0 180.2L312.4 184.6L308.0 189.0L303.6 184.6ZM308.7 178.4L313.1 182.8L308.7 187.2L304.3 182.8ZM307.7 179.5L312.1 183.9L307.7 188.3L303.3 183.9ZM308.8 177.7L313.2 182.1L308.8 186.5L304.4 182.1ZM308.8 177.2L313.2 181.6L308.8 186.0L304.4 181.6ZM308.8 176.8L313.2 181.2L308.8 185.6L304.4 181.2ZM308.8 176.1L313.2 180.5L308.8 184.9L304.4 180.5ZM308.3 175.6L312.7 180.0L308.3 184.4L303.9 180.0ZM309.4 175.0L313.8 179.4L309.4 183.8L305.0 179.4ZM308.3 173.8L312.7 178.2L308.3 182.6L303.9 178.2ZM309.4 174.2L313.8 178.6L309.4 183.0L305.0 178.6ZM309.1 173.9L313.5 178.3L309.1 182.7L304.7 178.3ZM309.3 172.9L313.7 177.3L309.3 181.7L304.9 177.3ZM309.5 171.4L313.9 175.8L309.5 180.2L305.1 175.8ZM308.9 172.4L313.3 176.8L308.9 181.2L304.5 176.8ZM309.1 170.3L313.5 174.7L309.1 179.1L304.7 174.7ZM309.6 170.8L314.0 175.2L309.6 179.6L305.2 175.2ZM310.5 169.3L314.9 173.7L310.5 178.1L306.1 173.7ZM310.2 169.7L314.6 174.1L310.2 178.5L305.8 174.1ZM310.5 168.7L314.9 173.1L310.5 177.5L306.1 173.1ZM310.3 168.6L314.7 173.0L310.3 177.4L305.9 173.0ZM310.0 167.6L314.4 172.0L310.0 176.4L305.6 172.0ZM310.8 167.5L315.2 171.9L310.8 176.3L306.4 171.9ZM310.3 166.5L314.7 170.9L310.3 175.3L305.9 170.9ZM310.1 166.3L314.5 170.7L310.1 175.1L305.7 170.7ZM311.2 165.6L315.6 170.0L311.2 174.4L306.8 170.0ZM311.2 165.2L315.6 169.6L311.2 174.0L306.8 169.6ZM310.7 163.7L315.1 168.1L310.7 172.5L306.3 168.1ZM311.2 164.0L315.6 168.4L311.2 172.8L306.8 168.4ZM311.8 163.0L316.2 167.4L311.8 171.8L307.4 167.4ZM312.2 163.4L316.6 167.8L312.2 172.2L307.8 167.8ZM312.4 162.5L316.8 166.9L312.4 171.3L308.0 166.9ZM312.2 162.1L316.6 166.5L312.2 170.9L307.8 166.5ZM312.3 160.5L316.7 164.9L312.3 169.3L307.9 164.9ZM313.0 161.1L317.4 165.5L313.0 169.9L308.6 165.5ZM312.4 160.6L316.8 165.0L312.4 169.4L308.0 165.0ZM313.1 160.2L317.5 164.6L313.1 169.0L308.7 164.6ZM313.3 158.4L317.7 162.8L313.3 167.2L308.9 162.8ZM314.1 158.4L318.5 162.8L314.1 167.2L309.7 162.8ZM313.8 158.4L318.2 162.8L313.8 167.2L309.4 162.8ZM313.5 157.7L317.9 162.1L313.5 166.5L309.1 162.1ZM314.6 156.2L319.0 160.6L314.6 165.0L310.2 160.6ZM315.2 156.5L319.6 160.9L315.2 165.3L310.8 160.9ZM314.2 155.5L318.6 159.9L314.2 164.3L309.8 159.9ZM314.2 155.8L318.6 160.2L314.2 164.6L309.8 160.2ZM315.7 155.0L320.1 159.4L315.7 163.8L311.3 159.4ZM314.6 154.6L319.0 159.0L314.6 163.4L310.2 159.0ZM315.2 153.3L319.6 157.7L315.2 162.1L310.8 157.7ZM315.2 153.0L319.6 157.4L315.2 161.8L310.8 157.4ZM315.2 152.4L319.6 156.8L315.2 161.2L310.8 156.8ZM315.2 152.8L319.6 157.2L315.2 161.6L310.8 157.2ZM315.3 151.7L319.7 156.1L315.3 160.5L310.9 156.1ZM315.5 150.5L319.9 154.9L315.5 159.3L311.1 154.9ZM316.5 150.0L320.9 154.4L316.5 158.8L312.1 154.4ZM316.5 150.0L320.9 154.4L316.5 158.8L312.1 154.4ZM316.5 148.3L320.9 152.7L316.5 157.1L312.1 152.7ZM316.6 148.9L321.0 153.3L316.6 157.7L312.2 153.3ZM317.2 147.1L321.6 151.5L317.2 155.9L312.8 151.5ZM315.9 148.0L320.3 152.4L315.9 156.8L311.5 152.4ZM317.4 146.6L321.8 151.0L317.4 155.4L313.0 151.0ZM317.1 146.8L321.5 151.2L317.1 155.6L312.7 151.2ZM316.9 145.6L321.3 150.0L316.9 154.4L312.5 150.0ZM317.2 144.9L321.6 149.3L317.2 153.7L312.8 149.3ZM317.1 144.8L321.5 149.2L317.1 153.6L312.7 149.2ZM317.0 144.5L321.4 148.9L317.0 153.3L312.6 148.9ZM317.3 143.2L321.7 147.6L317.3 152.0L312.9 147.6ZM317.9 143.7L322.3 148.1L317.9 152.5L313.5 148.1ZM318.5 142.3L322.9 146.7L318.5 151.1L314.1 146.7ZM317.4 142.1L321.8 146.5L317.4 150.9L313.0 146.5ZM317.5 140.8L321.9 145.2L317.5 149.6L313.1 145.2ZM318.2 141.4L322.6 145.8L318.2 150.2L313.8 145.8ZM317.9 139.7L322.3 144.1L317.9 148.5L313.5 144.1ZM317.7 139.7L322.1 144.1L317.7 148.5L313.3 144.1ZM318.5 138.7L322.9 143.1L318.5 147.5L314.1 143.1ZM319.0 139.1L323.4 143.5L319.0 147.9L314.6 143.5ZM318.7 137.8L323.1 142.2L318.7 146.6L314.3 142.2ZM318.3 138.2L322.7 142.6L318.3 147.0L313.9 142.6ZM319.7 136.6L324.1 141.0L319.7 145.4L315.3 141.0ZM319.6 136.5L324.0 140.9L319.6 145.3L315.2 140.9ZM319.3 135.3L323.7 139.7L319.3 144.1L314.9 139.7ZM319.3 135.8L323.7 140.2L319.3 144.6L314.9 140.2ZM320.1 134.9L324.5 139.3L320.1 143.7L315.7 139.3ZM319.8 135.0L324.2 139.4L319.8 143.8L315.4 139.4ZM320.4 133.3L324.8 137.7L320.4 142.1L316.0 137.7ZM320.7 133.4L325.1 137.8L320.7 142.2L316.3 137.8ZM320.6 132.2L325.0 136.6L320.6 141.0L316.2 136.6ZM321.2 132.7L325.6 137.1L321.2 141.5L316.8 137.1ZM322.0 130.8L326.4 135.2L322.0 139.6L317.6 135.2ZM322.0 131.6L326.4 136.0L322.0 140.4L317.6 136.0ZM322.1 130.8L326.5 135.2L322.1 139.6L317.7 135.2ZM321.3 130.5L325.7 134.9L321.3 139.3L316.9 134.9ZM322.7 128.5L327.1 132.9L322.7 137.3L318.3 132.9ZM322.2 129.6L326.6 134.0L322.2 138.4L317.8 134.0ZM322.1 128.4L326.5 132.8L322.1 137.2L317.7 132.8ZM323.0 127.8L327.4 132.2L323.0 136.6L318.6 132.2ZM322.0 126.4L326.4 130.8L322.0 135.2L317.6 130.8ZM323.3 126.7L327.7 131.1L323.3 135.5L318.9 131.1ZM322.3 125.6L326.7 130.0L322.3 134.4L317.9 130.0ZM323.8 125.4L328.2 129.8L323.8 134.2L319.4 129.8ZM322.4 125.2L326.8 129.6L322.4 134.0L318.0 129.6ZM323.1 124.4L327.5 128.8L323.1 133.2L318.7 128.8ZM324.1 123.2L328.5 127.6L324.1 132.0L319.7 127.6ZM322.9 124.0L327.3 128.4L322.9 132.8L318.5 128.4ZM323.4 122.0L327.8 126.4L323.4 130.8L319.0 126.4ZM324.4 122.0L328.8 126.4L324.4 130.8L320.0 126.4ZM324.6 121.1L329.0 125.5L324.6 129.9L320.2 125.5ZM323.8 120.9L328.2 125.3L323.8 129.7L319.4 125.3ZM324.3 120.3L328.7 124.7L324.3 129.1L319.9 124.7ZM324.1 120.2L328.5 124.6L324.1 129.0L319.7 124.6ZM324.2 119.6L328.6 124.0L324.2 128.4L319.8 124.0ZM325.1 119.5L329.5 123.9L325.1 128.3L320.7 123.9ZM325.1 117.4L329.5 121.8L325.1 126.2L320.7 121.8ZM324.3 117.6L328.7 122.0L324.3 126.4L319.9 122.0ZM324.4 117.6L328.8 122.0L324.4 126.4L320.0 122.0ZM325.4 117.5L329.8 121.9L325.4 126.3L321.0 121.9ZM325.3 115.4L329.7 119.8L325.3 124.2L320.9 119.8ZM325.1 115.3L329.5 119.7L325.1 124.1L320.7 119.7ZM326.1 114.6L330.5 119.0L326.1 123.4L321.7 119.0ZM325.2 115.5L329.6 119.9L325.2 124.3L320.8 119.9ZM325.4 114.5L329.8 118.9L325.4 123.3L321.0 118.9ZM325.6 114.1L330.0 118.5L325.6 122.9L321.2 118.5ZM325.4 113.5L329.8 117.9L325.4 122.3L321.0 117.9ZM325.8 112.7L330.2 117.1L325.8 121.5L321.4 117.1ZM326.2 112.2L330.6 116.6L326.2 121.0L321.8 116.6ZM325.7 111.5L330.1 115.9L325.7 120.3L321.3 115.9ZM326.2 110.4L330.6 114.8L326.2 119.2L321.8 114.8ZM326.6 110.9L331.0 115.3L326.6 119.7L322.2 115.3ZM325.7 109.9L330.1 114.3L325.7 118.7L321.3 114.3ZM325.6 109.9L330.0 114.3L325.6 118.7L321.2 114.3ZM326.3 109.1L330.7 113.5L326.3 117.9L321.9 113.5ZM326.0 108.9L330.4 113.3L326.0 117.7L321.6 113.3ZM326.5 108.5L330.9 112.9L326.5 117.3L322.1 112.9ZM326.5 108.5L330.9 112.9L326.5 117.3L322.1 112.9ZM326.8 106.5L331.2 110.9L326.8 115.3L322.4 110.9ZM326.4 107.5L330.8 111.9L326.4 116.3L322.0 111.9ZM327.1 105.7L331.5 110.1L327.1 114.5L322.7 110.1ZM327.1 106.4L331.5 110.8L327.1 115.2L322.7 110.8ZM327.2 104.6L331.6 109.0L327.2 113.4L322.8 109.0ZM327.2 104.1L331.6 108.5L327.2 112.9L322.8 108.5ZM327.9 103.7L332.3 108.1L327.9 112.5L323.5 108.1ZM328.1 103.6L332.5 108.0L328.1 112.4L323.7 108.0ZM328.2 102.9L332.6 107.3L328.2 111.7L323.8 107.3ZM328.3 103.3L332.7 107.7L328.3 112.1L323.9 107.7ZM328.1 102.0L332.5 106.4L328.1 110.8L323.7 106.4ZM329.0 101.9L333.4 106.3L329.0 110.7L324.6 106.3ZM328.7 99.8L333.1 104.2L328.7 108.6L324.3 104.2ZM330.2 100.9L334.6 105.3L330.2 109.7L325.8 105.3ZM329.9 99.8L334.3 104.2L329.9 108.6L325.5 104.2ZM331.3 98.7L335.7 103.1L331.3 107.5L326.9 103.1ZM329.7 97.6L334.1 102.0L329.7 106.4L325.3 102.0ZM331.6 98.1L336.0 102.5L331.6 106.9L327.2 102.5ZM330.6 97.5L335.0 101.9L330.6 106.3L326.2 101.9ZM332.4 97.3L336.8 101.7L332.4 106.1L328.0 101.7ZM331.2 96.1L335.6 100.5L331.2 104.9L326.8 100.5ZM331.7 96.5L336.1 100.9L331.7 105.3L327.3 100.9ZM331.1 94.3L335.5 98.7L331.1 103.1L326.7 98.7ZM333.2 94.6L337.6 99.0L333.2 103.4L328.8 99.0ZM332.8 93.1L337.2 97.5L332.8 101.9L328.4 97.5ZM332.7 94.1L337.1 98.5L332.7 102.9L328.3 98.5ZM332.9 92.7L337.3 97.1L332.9 101.5L328.5 97.1ZM334.2 92.3L338.6 96.7L334.2 101.1L329.8 96.7ZM334.5 91.9L338.9 96.3L334.5 100.7L330.1 96.3ZM334.4 92.0L338.8 96.4L334.4 100.8L330.0 96.4ZM334.6 89.8L339.0 94.2L334.6 98.6L330.2 94.2ZM333.9 90.5L338.3 94.9L333.9 99.3L329.5 94.9ZM335.1 89.0L339.5 93.4L335.1 97.8L330.7 93.4ZM334.5 88.8L338.9 93.2L334.5 97.6L330.1 93.2ZM335.0 88.1L339.4 92.5L335.0 96.9L330.6 92.5ZM334.5 88.5L338.9 92.9L334.5 97.3L330.1 92.9ZM334.0 87.4L338.4 91.8L334.0 96.2L329.6 91.8ZM335.0 87.6L339.4 92.0L335.0 96.4L330.6 92.0ZM334.6 85.6L339.0 90.0L334.6 94.4L330.2 90.0ZM334.4 86.6L338.8 91.0L334.4 95.4L330.0 91.0ZM335.1 84.7L339.5 89.1L335.1 93.5L330.7 89.1ZM335.3 85.2L339.7 89.6L335.3 94.0L330.9 89.6ZM335.2 83.6L339.6 88.0L335.2 92.4L330.8 88.0ZM336.0 84.2L340.4 88.6L336.0 93.0L331.6 88.6ZM335.3 82.1L339.7 86.5L335.3 90.9L330.9 86.5ZM336.8 83.0L341.2 87.4L336.8 91.8L332.4 87.4ZM336.0 81.5L340.4 85.9L336.0 90.3L331.6 85.9ZM337.0 81.5L341.4 85.9L337.0 90.3L332.6 85.9ZM335.8 79.9L340.2 84.3L335.8 88.7L331.4 84.3ZM336.3 80.6L340.7 85.0L336.3 89.4L331.9 85.0ZM336.2 80.0L340.6 84.4L336.2 88.8L331.8 84.4ZM336.9 79.3L341.3 83.7L336.9 88.1L332.5 83.7ZM336.9 78.4L341.3 82.8L336.9 87.2L332.5 82.8ZM337.0 78.3L341.4 82.7L337.0 87.1L332.6 82.7ZM337.2 77.2L341.6 81.6L337.2 86.0L332.8 81.6ZM338.1 76.8L342.5 81.2L338.1 85.6L333.7 81.2ZM337.9 75.8L342.3 80.2L337.9 84.6L333.5 80.2ZM338.9 75.5L343.3 79.9L338.9 84.3L334.5 79.9ZM338.0 74.9L342.4 79.3L338.0 83.7L333.6 79.3ZM339.6 74.6L344.0 79.0L339.6 83.4L335.2 79.0ZM338.1 73.4L342.5 77.8L338.1 82.2L333.7 77.8ZM340.2 74.0L344.6 78.4L340.2 82.8L335.8 78.4ZM338.4 72.5L342.8 76.9L338.4 81.3L334.0 76.9ZM340.2 73.6L344.6 78.0L340.2 82.4L335.8 78.0ZM339.8 72.2L344.2 76.6L339.8 81.0L335.4 76.6ZM340.9 72.3L345.3 76.7L340.9 81.1L336.5 76.7ZM461.4 53.9L465.8 58.3L461.4 62.7L457.0 58.3ZM461.9 58.3L466.3 62.7L461.9 67.1L457.5 62.7ZM462.1 63.3L466.5 67.7L462.1 72.1L457.7 67.7ZM463.0 69.3L467.4 73.7L463.0 78.1L458.6 73.7ZM463.6 73.8L468.0 78.2L463.6 82.6L459.2 78.2ZM464.1 78.2L468.5 82.6L464.1 87.0L459.7 82.6ZM464.7 82.6L469.1 87.0L464.7 91.4L460.3 87.0ZM465.2 87.0L469.6 91.4L465.2 95.8L460.8 91.4ZM465.8 91.4L470.2 95.8L465.8 100.2L461.4 95.8ZM466.5 93.1L470.9 97.5L466.5 101.9L462.1 97.5ZM467.1 96.0L471.5 100.4L467.1 104.8L462.7 100.4ZM467.8 108.8L472.2 113.2L467.8 117.6L463.4 113.2ZM468.5 116.2L472.9 120.6L468.5 125.0L464.1 120.6ZM469.2 124.3L473.6 128.7L469.2 133.1L464.8 128.7ZM469.8 131.0L474.2 135.4L469.8 139.8L465.4 135.4ZM470.5 136.4L474.9 140.8L470.5 145.2L466.1 140.8ZM470.8 142.1L475.2 146.5L470.8 150.9L466.4 146.5ZM471.3 156.5L475.7 160.9L471.3 165.3L466.9 160.9ZM471.8 158.6L476.2 163.0L471.8 167.4L467.4 163.0ZM472.3 161.6L476.7 166.0L472.3 170.4L467.9 166.0ZM472.8 164.6L477.2 169.0L472.8 173.4L468.4 169.0ZM473.3 167.6L477.7 172.0L473.3 176.4L468.9 172.0ZM473.6 170.6L478.0 175.0L473.6 179.4L469.2 175.0ZM473.8 173.1L478.2 177.5L473.8 181.9L469.4 177.5ZM474.3 176.1L478.7 180.5L474.3 184.9L469.9 180.5ZM474.7 178.6L479.1 183.0L474.7 187.4L470.3 183.0ZM475.4 181.6L479.8 186.0L475.4 190.4L471.0 186.0ZM476.0 184.1L480.4 188.5L476.0 192.9L471.6 188.5ZM476.6 187.1L481.0 191.5L476.6 195.9L472.2 191.5ZM477.2 189.6L481.6 194.0L477.2 198.4L472.8 194.0ZM477.3 191.5L481.7 195.9L477.3 200.3L472.9 195.9ZM477.3 198.9L481.7 203.3L477.3 207.7L472.9 203.3ZM477.8 207.2L482.2 211.6L477.8 216.0L473.4 211.6ZM478.3 209.1L482.7 213.5L478.3 217.9L473.9 213.5ZM479.0 211.1L483.4 215.5L479.0 219.9L474.6 215.5ZM479.8 212.6L484.2 217.0L479.8 221.4L475.4 217.0ZM480.7 214.1L485.1 218.5L480.7 222.9L476.3 218.5ZM479.2 208.6L483.6 213.0L479.2 217.4L474.8 213.0ZM480.2 211.6L484.6 216.0L480.2 220.4L475.8 216.0ZM478.6 206.6L483.0 211.0L478.6 215.4L474.2 211.0ZM480.7 220.0L485.1 224.4L480.7 228.8L476.3 224.4ZM481.2 224.9L485.6 229.3L481.2 233.7L476.8 229.3ZM481.8 225.6L486.2 230.0L481.8 234.4L477.4 230.0ZM481.8 229.5L486.2 233.9L481.8 238.3L477.4 233.9ZM482.5 232.6L486.9 237.0L482.5 241.4L478.1 237.0ZM483.2 235.4L487.6 239.8L483.2 244.2L478.8 239.8ZM484.0 238.6L488.4 243.0L484.0 247.4L479.6 243.0ZM484.7 242.2L489.1 246.6L484.7 251.0L480.3 246.6ZM485.2 244.6L489.6 249.0L485.2 253.4L480.8 249.0ZM485.7 247.1L490.1 251.5L485.7 255.9L481.3 251.5ZM486.2 250.1L490.6 254.5L486.2 258.9L481.8 254.5ZM486.7 253.1L491.1 257.5L486.7 261.9L482.3 257.5ZM487.2 256.0L491.6 260.4L487.2 264.8L482.8 260.4ZM487.6 260.9L492.0 265.3L487.6 269.7L483.2 265.3ZM488.2 257.7L492.6 262.1L488.2 266.5L483.8 262.1ZM487.6 257.6L492.0 262.0L487.6 266.4L483.2 262.0ZM488.1 258.3L492.5 262.7L488.1 267.1L483.7 262.7ZM488.4 258.5L492.8 262.9L488.4 267.3L484.0 262.9ZM488.1 259.8L492.5 264.2L488.1 268.6L483.7 264.2ZM488.4 259.7L492.8 264.1L488.4 268.5L484.0 264.1ZM488.8 260.8L493.2 265.2L488.8 269.6L484.4 265.2ZM488.3 260.4L492.7 264.8L488.3 269.2L483.9 264.8ZM488.7 261.7L493.1 266.1L488.7 270.5L484.3 266.1ZM488.7 261.7L493.1 266.1L488.7 270.5L484.3 266.1ZM488.4 262.5L492.8 266.9L488.4 271.3L484.0 266.9ZM488.5 262.6L492.9 267.0L488.5 271.4L484.1 267.0ZM489.3 264.0L493.7 268.4L489.3 272.8L484.9 268.4ZM488.8 264.1L493.2 268.5L488.8 272.9L484.4 268.5ZM489.3 264.6L493.7 269.0L489.3 273.4L484.9 269.0ZM489.4 264.8L493.8 269.2L489.4 273.6L485.0 269.2ZM489.8 265.8L494.2 270.2L489.8 274.6L485.4 270.2ZM489.2 265.8L493.6 270.2L489.2 274.6L484.8 270.2ZM489.9 267.3L494.3 271.7L489.9 276.1L485.5 271.7ZM489.6 266.8L494.0 271.2L489.6 275.6L485.2 271.2ZM489.7 268.3L494.1 272.7L489.7 277.1L485.3 272.7ZM489.4 268.5L493.8 272.9L489.4 277.3L485.0 272.9ZM490.3 269.5L494.7 273.9L490.3 278.3L485.9 273.9ZM490.2 269.3L494.6 273.7L490.2 278.1L485.8 273.7ZM490.6 270.0L495.0 274.4L490.6 278.8L486.2 274.4ZM490.1 269.9L494.5 274.3L490.1 278.7L485.7 274.3ZM490.2 271.5L494.6 275.9L490.2 280.3L485.8 275.9ZM490.1 271.5L494.5 275.9L490.1 280.3L485.7 275.9ZM490.6 272.6L495.0 277.0L490.6 281.4L486.2 277.0ZM490.9 272.4L495.3 276.8L490.9 281.2L486.5 276.8ZM491.2 273.0L495.6 277.4L491.2 281.8L486.8 277.4ZM490.7 273.2L495.1 277.6L490.7 282.0L486.3 277.6ZM491.1 274.5L495.5 278.9L491.1 283.3L486.7 278.9ZM491.5 274.6L495.9 279.0L491.5 283.4L487.1 279.0ZM491.8 275.6L496.2 280.0L491.8 284.4L487.4 280.0ZM491.3 275.4L495.7 279.8L491.3 284.2L486.9 279.8ZM491.9 276.7L496.3 281.1L491.9 285.5L487.5 281.1ZM491.6 276.4L496.0 280.8L491.6 285.2L487.2 280.8ZM492.1 277.3L496.5 281.7L492.1 286.1L487.7 281.7ZM492.3 277.1L496.7 281.5L492.3 285.9L487.9 281.5ZM492.4 278.5L496.8 282.9L492.4 287.3L488.0 282.9ZM492.0 278.6L496.4 283.0L492.0 287.4L487.6 283.0ZM492.5 280.0L496.9 284.4L492.5 288.8L488.1 284.4ZM492.8 279.7L497.2 284.1L492.8 288.5L488.4 284.1ZM493.1 281.0L497.5 285.4L493.1 289.8L488.7 285.4ZM492.5 280.9L496.9 285.3L492.5 289.7L488.1 285.3ZM493.4 282.1L497.8 286.5L493.4 290.9L489.0 286.5ZM493.3 281.6L497.7 286.0L493.3 290.4L488.9 286.0ZM493.2 282.9L497.6 287.3L493.2 291.7L488.8 287.3ZM493.2 283.0L497.6 287.4L493.2 291.8L488.8 287.4ZM493.8 284.1L498.2 288.5L493.8 292.9L489.4 288.5ZM493.6 283.7L498.0 288.1L493.6 292.5L489.2 288.1ZM494.4 285.0L498.8 289.4L494.4 293.8L490.0 289.4ZM494.0 284.9L498.4 289.3L494.0 293.7L489.6 289.3ZM494.3 286.1L498.7 290.5L494.3 294.9L489.9 290.5ZM494.4 285.8L498.8 290.2L494.4 294.6L490.0 290.2ZM495.1 287.3L499.5 291.7L495.1 296.1L490.7 291.7ZM494.9 286.8L499.3 291.2L494.9 295.6L490.5 291.2ZM495.0 288.2L499.4 292.6L495.0 297.0L490.6 292.6ZM495.6 288.2L500.0 292.6L495.6 297.0L491.2 292.6ZM495.5 289.3L499.9 293.7L495.5 298.1L491.1 293.7ZM496.0 289.0L500.4 293.4L496.0 297.8L491.6 293.4ZM496.4 290.1L500.8 294.5L496.4 298.9L492.0 294.5ZM496.7 290.4L501.1 294.8L496.7 299.2L492.3 294.8ZM497.2 290.9L501.6 295.3L497.2 299.7L492.8 295.3ZM497.3 291.6L501.7 296.0L497.3 300.4L492.9 296.0ZM497.5 292.3L501.9 296.7L497.5 301.1L493.1 296.7ZM498.1 291.9L502.5 296.3L498.1 300.7L493.7 296.3ZM498.1 293.4L502.5 297.8L498.1 302.2L493.7 297.8ZM498.5 293.2L502.9 297.6L498.5 302.0L494.1 297.6ZM498.5 294.1L502.9 298.5L498.5 302.9L494.1 298.5ZM499.1 294.2L503.5 298.6L499.1 303.0L494.7 298.6ZM499.3 295.7L503.7 300.1L499.3 304.5L494.9 300.1ZM499.7 295.6L504.1 300.0L499.7 304.4L495.3 300.0ZM499.3 296.5L503.7 300.9L499.3 305.3L494.9 300.9ZM500.1 296.8L504.5 301.2L500.1 305.6L495.7 301.2ZM500.2 297.7L504.6 302.1L500.2 306.5L495.8 302.1ZM500.7 297.8L505.1 302.2L500.7 306.6L496.3 302.2ZM500.1 298.6L504.5 303.0L500.1 307.4L495.7 303.0ZM501.6 298.2L506.0 302.6L501.6 307.0L497.2 302.6ZM500.9 299.9L505.3 304.3L500.9 308.7L496.5 304.3ZM502.3 299.5L506.7 303.9L502.3 308.3L497.9 303.9ZM501.7 300.5L506.1 304.9L501.7 309.3L497.3 304.9ZM503.2 300.6L507.6 305.0L503.2 309.4L498.8 305.0ZM501.7 302.1L506.1 306.5L501.7 310.9L497.3 306.5ZM503.2 301.5L507.6 305.9L503.2 310.3L498.8 305.9ZM502.8 302.4L507.2 306.8L502.8 311.2L498.4 306.8ZM504.1 303.0L508.5 307.4L504.1 311.8L499.7 307.4ZM503.3 303.7L507.7 308.1L503.3 312.5L498.9 308.1ZM504.8 304.1L509.2 308.5L504.8 312.9L500.4 308.5ZM503.9 305.0L508.3 309.4L503.9 313.8L499.5 309.4ZM504.9 304.8L509.3 309.2L504.9 313.6L500.5 309.2ZM504.9 306.3L509.3 310.7L504.9 315.1L500.5 310.7ZM505.2 305.7L509.6 310.1L505.2 314.5L500.8 310.1ZM504.9 307.2L509.3 311.6L504.9 316.0L500.5 311.6ZM505.9 306.7L510.3 311.1L505.9 315.5L501.5 311.1ZM506.0 307.8L510.4 312.2L506.0 316.6L501.6 312.2ZM507.1 308.0L511.5 312.4L507.1 316.8L502.7 312.4ZM506.7 309.4L511.1 313.8L506.7 318.2L502.3 313.8ZM507.0 309.3L511.4 313.7L507.0 318.1L502.6 313.7ZM507.2 310.0L511.6 314.4L507.2 318.8L502.8 314.4ZM507.5 310.4L511.9 314.8L507.5 319.2L503.1 314.8ZM508.1 311.2L512.5 315.6L508.1 320.0L503.7 315.6ZM508.7 311.1L513.1 315.5L508.7 319.9L504.3 315.5ZM508.8 312.1L513.2 316.5L508.8 320.9L504.4 316.5ZM509.0 312.8L513.4 317.2L509.0 321.6L504.6 317.2Z" fill="#4A7FC1"/>
<polygon points="333.7,80 334.5,78 336.2,75.6 338.5,72.5 340.6,70 341.2,62 341.5,56.5 343,53.5 345.4,51.8 347.6,54.4 350.1,57.2 351.2,55.5 350.9,54.3 352.5,50.5 351.8,46.4 352.2,43.4 354.4,37.6 356.8,35.2 359.6,33.4 362.2,35.4 364,37.6 362.3,41.2 364,44.2 365.6,48.1 366.3,49.6 367.1,48 367.8,44.4 368.2,40 368.6,36 370,30.5 372,26.1 374.3,29.2 376.7,27.9 379.2,26.1 381.6,24.3 384.1,23 386.5,21.2 389,20 391.4,18.5 395.4,17.2 397.8,14.7 400.3,15.9 402.7,18.4 405.2,20.8 407.6,23.3 410.1,20.8 412.5,11.5 414,8.1 416.7,5.4 419.4,2.7 422,1.8 424.8,4 427.5,8.1 430.2,13.5 432.9,18.9 435.6,22.2 438.3,26.3 441,28.8 443.6,27.2 445.4,25.5 448.1,23.5 450.8,22.8 453.5,20.6 456.2,21.5 458.9,26.2 460.4,32.9 461.5,40 462.2,45.3 461.5,48.5 459.5,50.4 458.9,47.7 456.2,43.7 453.5,45 450.8,47.7 448.1,46.4 445.4,43.7 442.7,49.1 441,50.5 438.3,49.9 435.6,47.2 432.9,43.1 430.2,39.1 427.5,36.4 424.8,33.7 422.8,27 421.8,21.6 420.2,19 418.6,22 417.4,28.4 414,31 412.5,33.1 410.1,35.5 407.6,36.8 405.2,35.5 402.7,34.3 400.3,33.1 397.8,31.3 396.5,36 395.4,40.4 392.5,46 390.5,46.8 388,47.8 386.5,45.1 384.1,41.4 381.6,45.1 379.2,47.5 378,50.3 376.7,48.8 374.4,48.8 373.6,52.5 372.9,57.6 371.8,62 368.5,66.5 367,67.6 365.6,62 363.4,64.3 360.4,60.6 357.5,58.4 356,57.8 356.4,62.7 357.9,68.6 357.1,70 352.7,72.3 347,71.6 344.5,72.5 343.5,76 344.5,78.3 342.5,82 340,86" fill="#4A7FC1"/>
<path d="M339.2 72.9L343.6 77.3L339.2 81.7L334.8 77.3ZM344.3 62.0L348.7 66.4L344.3 70.8L339.9 66.4ZM344.4 60.4L348.8 64.8L344.4 69.2L340.0 64.8ZM344.7 56.6L349.1 61.0L344.7 65.4L340.3 61.0ZM344.8 54.2L349.2 58.6L344.8 63.0L340.4 58.6ZM345.2 52.4L349.6 56.8L345.2 61.2L340.8 56.8ZM345.3 52.5L349.7 56.9L345.3 61.3L340.9 56.9ZM354.5 50.3L358.9 54.7L354.5 59.1L350.1 54.7ZM354.1 51.0L358.5 55.4L354.1 59.8L349.7 55.4ZM355.6 43.9L360.0 48.3L355.6 52.7L351.2 48.3ZM355.3 41.1L359.7 45.5L355.3 49.9L350.9 45.5ZM355.8 39.0L360.2 43.4L355.8 47.8L351.4 43.4ZM356.9 36.1L361.3 40.5L356.9 44.9L352.5 40.5ZM357.5 34.9L361.9 39.3L357.5 43.7L353.1 39.3ZM359.9 32.9L364.3 37.3L359.9 41.7L355.5 37.3ZM360.1 33.8L364.5 38.2L360.1 42.6L355.7 38.2ZM359.4 38.5L363.8 42.9L359.4 47.3L355.0 42.9ZM360.9 41.3L365.3 45.7L360.9 50.1L356.5 45.7ZM362.6 45.3L367.0 49.7L362.6 54.1L358.2 49.7ZM369.5 46.4L373.9 50.8L369.5 55.2L365.1 50.8ZM370.5 44.0L374.9 48.4L370.5 52.8L366.1 48.4ZM371.4 38.2L375.8 42.6L371.4 47.0L367.0 42.6ZM371.7 34.8L376.1 39.2L371.7 43.6L367.3 39.2ZM372.2 31.4L376.6 35.8L372.2 40.2L367.8 35.8ZM372.9 28.5L377.3 32.9L372.9 37.3L368.5 32.9ZM377.1 27.2L381.5 31.6L377.1 36.0L372.7 31.6ZM379.0 26.0L383.4 30.4L379.0 34.8L374.6 30.4ZM381.4 24.3L385.8 28.7L381.4 33.1L377.0 28.7ZM384.2 22.4L388.6 26.8L384.2 31.2L379.8 26.8ZM387.2 20.5L391.6 24.9L387.2 29.3L382.8 24.9ZM389.0 19.4L393.4 23.8L389.0 28.2L384.6 23.8ZM391.3 18.2L395.7 22.6L391.3 27.0L386.9 22.6ZM393.7 16.9L398.1 21.3L393.7 25.7L389.3 21.3ZM398.0 15.0L402.4 19.4L398.0 23.8L393.6 19.4ZM398.3 14.4L402.7 18.8L398.3 23.2L393.9 18.8ZM401.3 17.3L405.7 21.7L401.3 26.1L396.9 21.7ZM402.9 18.9L407.3 23.3L402.9 27.7L398.5 23.3ZM411.2 20.1L415.6 24.5L411.2 28.9L406.8 24.5ZM413.4 17.2L417.8 21.6L413.4 26.0L409.0 21.6ZM414.6 12.6L419.0 17.0L414.6 21.4L410.2 17.0ZM415.1 10.7L419.5 15.1L415.1 19.5L410.7 15.1ZM416.2 7.1L420.6 11.5L416.2 15.9L411.8 11.5ZM417.5 5.0L421.9 9.4L417.5 13.8L413.1 9.4ZM420.4 2.1L424.8 6.5L420.4 10.9L416.0 6.5ZM421.1 1.3L425.5 5.7L421.1 10.1L416.7 5.7ZM422.4 2.1L426.8 6.5L422.4 10.9L418.0 6.5ZM425.0 6.3L429.4 10.7L425.0 15.1L420.6 10.7ZM425.9 8.1L430.3 12.5L425.9 16.9L421.5 12.5ZM427.8 11.8L432.2 16.2L427.8 20.6L423.4 16.2ZM428.9 14.1L433.3 18.5L428.9 22.9L424.5 18.5ZM430.4 16.8L434.8 21.2L430.4 25.6L426.0 21.2ZM434.0 21.6L438.4 26.0L434.0 30.4L429.6 26.0ZM436.4 24.8L440.8 29.2L436.4 33.6L432.0 29.2ZM442.9 27.2L447.3 31.6L442.9 36.0L438.5 31.6ZM446.2 25.1L450.6 29.5L446.2 33.9L441.8 29.5ZM447.5 23.8L451.9 28.2L447.5 32.6L443.1 28.2ZM449.3 22.3L453.7 26.7L449.3 31.1L444.9 26.7ZM453.9 20.3L458.3 24.7L453.9 29.1L449.5 24.7ZM453.8 19.9L458.2 24.3L453.8 28.7L449.4 24.3ZM455.2 22.1L459.6 26.5L455.2 30.9L450.8 26.5ZM455.9 23.9L460.3 28.3L455.9 32.7L451.5 28.3ZM456.6 27.1L461.0 31.5L456.6 35.9L452.2 31.5ZM457.1 29.7L461.5 34.1L457.1 38.5L452.7 34.1ZM457.7 33.0L462.1 37.4L457.7 41.8L453.3 37.4ZM458.2 36.3L462.6 40.7L458.2 45.1L453.8 40.7ZM454.0 36.6L458.4 41.0L454.0 45.4L449.6 41.0ZM450.2 39.0L454.6 43.4L450.2 47.8L445.8 43.4ZM450.2 39.2L454.6 43.6L450.2 48.0L445.8 43.6ZM441.9 38.7L446.3 43.1L441.9 47.5L437.5 43.1ZM440.9 40.8L445.3 45.2L440.9 49.6L436.5 45.2ZM440.0 42.5L444.4 46.9L440.0 51.3L435.6 46.9ZM440.4 42.5L444.8 46.9L440.4 51.3L436.0 46.9ZM440.2 42.6L444.6 47.0L440.2 51.4L435.8 47.0ZM437.1 39.0L441.5 43.4L437.1 47.8L432.7 43.4ZM434.9 35.6L439.3 40.0L434.9 44.4L430.5 40.0ZM431.3 31.0L435.7 35.4L431.3 39.8L426.9 35.4ZM429.2 28.9L433.6 33.3L429.2 37.7L424.8 33.3ZM427.7 27.1L432.1 31.5L427.7 35.9L423.3 31.5ZM426.7 23.8L431.1 28.2L426.7 32.6L422.3 28.2ZM426.1 21.7L430.5 26.1L426.1 30.5L421.7 26.1ZM425.5 18.6L429.9 23.0L425.5 27.4L421.1 23.0ZM424.2 14.7L428.6 19.1L424.2 23.5L419.8 19.1ZM416.8 13.7L421.2 18.1L416.8 22.5L412.4 18.1ZM415.1 18.0L419.5 22.4L415.1 26.8L410.7 22.4ZM414.4 21.6L418.8 26.0L414.4 30.4L410.0 26.0ZM414.0 22.3L418.4 26.7L414.0 31.1L409.6 26.7ZM410.6 25.5L415.0 29.9L410.6 34.3L406.2 29.9ZM409.9 26.5L414.3 30.9L409.9 35.3L405.5 30.9ZM407.7 28.5L412.1 32.9L407.7 37.3L403.3 32.9ZM405.5 27.5L409.9 31.9L405.5 36.3L401.1 31.9ZM404.2 26.9L408.6 31.3L404.2 35.7L399.8 31.3ZM402.1 25.8L406.5 30.2L402.1 34.6L397.7 30.2ZM393.9 28.3L398.3 32.7L393.9 37.1L389.5 32.7ZM393.0 31.6L397.4 36.0L393.0 40.4L388.6 36.0ZM391.9 35.4L396.3 39.8L391.9 44.2L387.5 39.8ZM390.5 38.1L394.9 42.5L390.5 46.9L386.1 42.5ZM388.2 37.0L392.6 41.4L388.2 45.8L383.8 41.4ZM380.6 36.1L385.0 40.5L380.6 44.9L376.2 40.5ZM378.2 39.2L382.6 43.6L378.2 48.0L373.8 43.6ZM376.0 41.0L380.4 45.4L376.0 49.8L371.6 45.4ZM370.8 45.1L375.2 49.5L370.8 53.9L366.4 49.5ZM369.9 49.9L374.3 54.3L369.9 58.7L365.5 54.3ZM369.6 52.6L374.0 57.0L369.6 61.4L365.2 57.0ZM361.4 52.7L365.8 57.1L361.4 61.5L357.0 57.1ZM358.1 50.6L362.5 55.0L358.1 59.4L353.7 55.0ZM353.1 59.3L357.5 63.7L353.1 68.1L348.7 63.7ZM354.0 62.6L358.4 67.0L354.0 71.4L349.6 67.0ZM354.0 63.4L358.4 67.8L354.0 72.2L349.6 67.8ZM352.7 64.5L357.1 68.9L352.7 73.3L348.3 68.9ZM349.2 64.0L353.6 68.4L349.2 72.8L344.8 68.4ZM345.1 64.3L349.5 68.7L345.1 73.1L340.7 68.7ZM340.8 73.9L345.2 78.3L340.8 82.7L336.4 78.3ZM337.6 74.7L342.0 79.1L337.6 83.5L333.2 79.1Z" fill="#4A7FC1"/>
<polygon points="357.1,52.8 359,51 360.8,52.8 359,54.7" fill="#fff"/>
<polyline points="37.9,353.7 126.4,353.7 214.8,243.3 273.8,22.6 391.7,22.6 421.2,353.7 509.7,353.7" fill="none" stroke="#E46C0A" stroke-width="3" stroke-linejoin="round"/>
<g fill="#C0504D" stroke="#B84A47" stroke-width="0.5"><rect x="33.7" y="349.5" width="8.4" height="8.4" rx="0.6"/><rect x="122.2" y="349.5" width="8.4" height="8.4" rx="0.6"/><rect x="210.6" y="239.1" width="8.4" height="8.4" rx="0.6"/><rect x="269.6" y="18.4" width="8.4" height="8.4" rx="0.6"/><rect x="387.5" y="18.4" width="8.4" height="8.4" rx="0.6"/><rect x="417.0" y="349.5" width="8.4" height="8.4" rx="0.6"/><rect x="505.5" y="349.5" width="8.4" height="8.4" rx="0.6"/></g>
<g stroke="#FF0000" stroke-width="1.8" fill="none">
<path d="M35 70.8H573.8M35 316.6H573.8" stroke-dasharray="4.1 1.45"/>
<path d="M235.5 2V375M342.2 2V375" stroke-dasharray="2.6 1.1" stroke-width="1.4"/>
</g>
<g stroke="#000" stroke-width="1.3" fill="none">
<path d="M215.2 46.7L334.5 67.3"/>
<path d="M199.6 192L234.6 317.3"/>
<path d="M129 255.1L174 292.4"/>
<path d="M468 107L516.6 152.1"/>
</g>
<g font-family="Liberation Serif, serif" font-size="15.1" fill="#000" text-anchor="middle">
<text x="146.6" y="19.9">Approximate HMTD</text>
<text x="146.6" y="37.75">elution time on PFP column</text>
<text x="146.6" y="55.6">(MeOH ~ 82%)</text>
<text x="132.4" y="148.7">Approximate HMTD</text>
<text x="132.4" y="166.55">elution time on C18</text>
<text x="132.4" y="184.4">column (MeOH ~15%)</text>
</g>
<g font-family="Liberation Serif, serif" font-weight="bold" fill="#000" text-anchor="middle">
<text transform="translate(94.6,247.4) scale(1,1.06)" font-size="17.3">Gradient</text>
<text x="524" y="165.8" font-size="14.7">Ratio of m/z</text>
<text x="524" y="183.8" font-size="14.7">207 /209</text>
<text x="303.4" y="405.5" font-size="12.7">Time (minutes)</text>
<text transform="translate(10.1,188.4) rotate(-90)" font-size="15.05">207.0975/209.0768 Intensity Ratio</text>
<text transform="translate(600.2,188) rotate(90)" font-size="15">% Methanol in Mobile Phase</text>
</g>
</svg></body></html>
